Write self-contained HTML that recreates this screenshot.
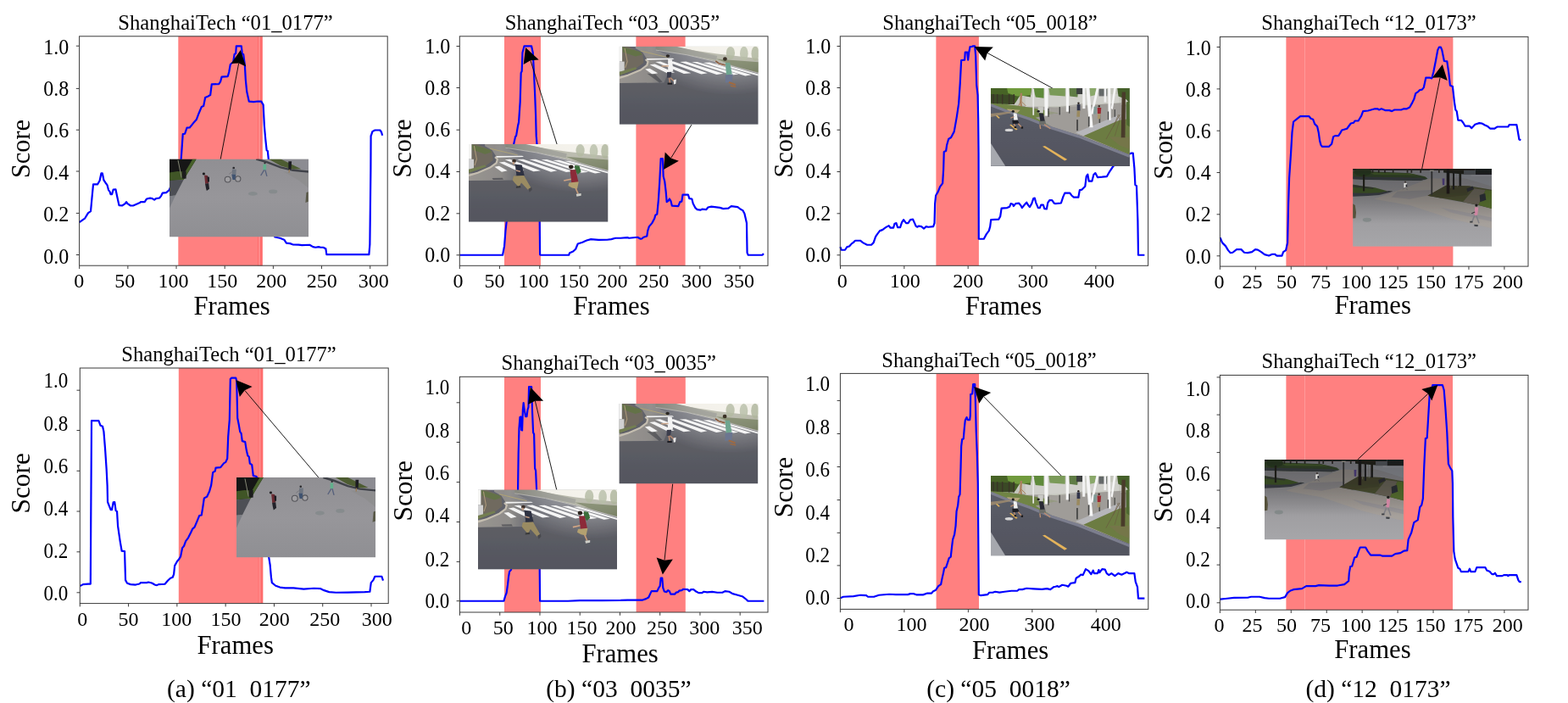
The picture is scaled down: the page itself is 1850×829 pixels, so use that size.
<!DOCTYPE html>
<html lang="en"><head><meta charset="utf-8"><title>ShanghaiTech anomaly score curves</title>
<style>html,body{margin:0;padding:0;background:#fff;}body{width:1850px;height:829px;overflow:hidden;}svg{display:block;font-family:'Liberation Serif', 'Times New Roman', Times, serif;fill:#000;}</style>
</head><body>
<svg width="1850" height="829" viewBox="0 0 1850 829">
<defs>
<linearGradient id="gA" x1="0" y1="0" x2="0" y2="1"><stop offset="0" stop-color="#908f93"/><stop offset="0.5" stop-color="#97969a"/><stop offset="1" stop-color="#8f8f93"/></linearGradient>
<linearGradient id="gB" x1="0" y1="0" x2="0" y2="1"><stop offset="0" stop-color="#4c4e59"/><stop offset="0.45" stop-color="#46474f"/><stop offset="1" stop-color="#3a3c47"/></linearGradient>
<linearGradient id="gBs" x1="0" y1="0" x2="1" y2="0"><stop offset="0" stop-color="#8a8681"/><stop offset="0.6" stop-color="#7e7b78"/><stop offset="1" stop-color="#50525b"/></linearGradient>
<linearGradient id="gD" x1="0" y1="0" x2="0" y2="1"><stop offset="0" stop-color="#5d5f6a"/><stop offset="1" stop-color="#52545f"/></linearGradient>
<linearGradient id="gE" x1="0" y1="0" x2="0" y2="1"><stop offset="0" stop-color="#87868a"/><stop offset="0.4" stop-color="#8f8e91"/><stop offset="0.72" stop-color="#a09fa2"/><stop offset="1" stop-color="#a6a6a9"/></linearGradient>
<radialGradient id="gHz" cx="0.8" cy="0" r="0.62"><stop offset="0" stop-color="#fff" stop-opacity="0.38"/><stop offset="0.5" stop-color="#fff" stop-opacity="0.26"/><stop offset="1" stop-color="#fff" stop-opacity="0"/></radialGradient>
<linearGradient id="gHz2" x1="0" y1="0" x2="0" y2="1"><stop offset="0" stop-color="#fff" stop-opacity="0.2"/><stop offset="0.4" stop-color="#fff" stop-opacity="0"/></linearGradient>
<linearGradient id="gDk" x1="0" y1="0" x2="0" y2="1"><stop offset="0" stop-color="#000" stop-opacity="0.26"/><stop offset="0.3" stop-color="#000" stop-opacity="0.2"/><stop offset="0.7" stop-color="#000" stop-opacity="0"/></linearGradient>
<filter id="blur" x="-5%" y="-5%" width="110%" height="110%"><feGaussianBlur stdDeviation="0.45"/></filter>
<clipPath id="clipP"><rect width="164" height="92"/></clipPath>
</defs>
<rect width="1850" height="829" fill="#fff"/>
<g>
<rect x="210.3" y="42.8" width="99.4" height="270.4" fill="#ff8080"/>
<rect x="304" y="42.8" width="1" height="270.4" fill="#ff6e6e"/>
<rect x="305" y="42.8" width="2" height="270.4" fill="#ff8b8b"/>
<rect x="307" y="42.8" width="2.5" height="270.4" fill="#ff6c6c"/>
<polyline fill="none" stroke="#0000ff" stroke-width="2.2" stroke-linejoin="round" stroke-linecap="butt" points="93.6,262.11 100.01,257.71 104.02,251.1 107.02,249.1 108.42,234.08 110.02,217.46 115.03,217.46 117.63,213.06 119.43,204.45 120.83,204.45 122.44,212.46 124.44,215.46 126.44,218.06 128.04,224.07 129.64,226.07 130.44,229.07 132.05,229.07 133.65,223.67 136.45,223.27 138.05,231.08 140.45,242.09 144.06,242.49 147.66,240.09 149.06,238.08 150.47,240.09 154.07,242.49 157.07,242.49 165.08,239.09 166.08,238.08 170.69,238.08 173.09,234.48 177.09,233.68 179.7,234.08 182.1,235.68 184.1,234.08 188.11,233.48 190.11,231.08 191.71,227.67 196.11,227.07 199.72,224.07 213.73,187.16 215.74,158.13 218.14,157.73 220.54,150.72 223.74,150.52 228.15,145.11 231.75,141.11 234.56,133.7 237.76,126.09 240.16,125.09 242.16,115.08 245.17,113.68 248.17,112.08 249.77,99.46 258.18,99.06 260.18,96.06 261.59,90.65 268.79,90.05 270.19,85.05 271.8,76.04 275.2,73.04 276.6,64.03 278.2,63.02 278.8,54.42 284.81,54.42 285.81,63.63 287.21,64.03 288.81,76.04 289.82,94.06 291.22,108.07 293.82,119.69 299.23,120.09 304.23,119.49 308.24,119.69 310.64,123.69 311.84,148.12 313.24,164.13 314.64,177.15 315.84,178.15 316.85,188.16 324.25,279.53 330.26,280.73 335.27,282.73 337.87,286.54 342.27,287.14 345.28,288.34 352.28,288.54 356.29,289.14 365.3,288.74 369.3,291.14 372.31,291.74 375.91,291.14 378.31,291.74 381.31,291.74 384.32,293.14 385.32,300.15 435.37,300.15 436.37,288.14 437.38,200.04 437.58,160 437.78,160.13 439.38,155.12 442.38,153.52 448.39,153.52 449.99,155.73 451.19,159.73"/>
<line x1="260.18" y1="187.76" x2="281.7" y2="74.61" stroke="#000" stroke-width="0.9"/>
<polygon points="283.81,59.02 272.6,75.04 281.7,74.61 290.22,78.44" fill="#000"/>
<g transform="translate(200 187.5) scale(1.0000 1.0000)" clip-path="url(#clipP)"><g filter="url(#blur)">
<rect width="164" height="92" fill="url(#gA)"/>
<polygon points="0.0,0.0 31.7,0.0 16.6,24.4 0.0,25.6" fill="#141712" />
<polygon points="0.0,15.9 9.4,14.5 22.1,15.3 16.6,24.4 0.0,25.6" fill="#3f5526" />
<polygon points="27.3,0.0 31.7,0.0 16.6,24.4 13.0,24.4" fill="#46602a" />
<polyline points="10.0,1.4 14.2,22.0" fill="none" stroke="#8a8a7a" stroke-width="0.96" />
<rect x="14.8" y="14.7" width="4.8" height="8.4" fill="#1a1a1c" />
<polygon points="0.0,25.6 16.6,24.4 7.0,43.1 0.0,43.7" fill="#4d4f55" />
<polygon points="0.0,43.7 7.0,43.1 0.0,58.1" fill="#7d7f85" />
<polygon points="131.2,0.0 163.8,0.0 163.8,13.5 155.3,11.7" fill="#8c8c92" />
<polygon points="116.7,0.0 131.2,0.0 155.3,11.7 145.7,12.3 131.2,8.1" fill="#4e5c32" />
<polyline points="102.3,0.0 115.5,3.9 131.2,9.9 145.7,13.3 163.8,15.0" fill="none" stroke="#3f4248" stroke-width="2.41" />
<polygon points="134.8,15.3 163.8,16.5 163.8,34.0 151.7,24.4" fill="#8b8a8a" opacity="0.6"/>
<ellipse cx="98.3" cy="40.9" rx="5.4" ry="2.4" fill="#868b8d" />
<ellipse cx="122.2" cy="38.4" rx="5.1" ry="2.4" fill="#868b8d" />
<ellipse cx="40.4" cy="17.5" rx="1.6" ry="1.4" fill="#1b1b1d" />
<polygon points="41.1,19.1 45.0,19.5 46.2,28.6 42.2,29.4" fill="#6a2a31" />
<polygon points="44.4,20.7 47.0,21.3 47.0,27.0 45.0,27.0" fill="#1c1c20" />
<polygon points="42.0,29.2 46.2,28.6 47.0,35.2 43.8,37.6 42.9,34.0" fill="#23242a" />
<circle cx="68.7" cy="24.1" r="3.4" fill="#a09fa2" stroke="#55555a" stroke-width="1.1"/>
<circle cx="80.8" cy="23.4" r="3.1" fill="#a09fa2" stroke="#55555a" stroke-width="1.1"/>
<ellipse cx="75.7" cy="10.5" rx="1.3" ry="1.3" fill="#2a2a2e" />
<polygon points="73.9,12.1 78.8,12.3 78.4,18.3 73.9,18.1" fill="#6e7480" />
<polygon points="73.3,18.1 78.2,18.3 77.5,24.4 74.5,24.4" fill="#3f5270" />
<polyline points="70.3,17.7 74.5,14.7" fill="none" stroke="#6e6e74" stroke-width="0.72" />
<ellipse cx="112.5" cy="4.8" rx="1.1" ry="1.1" fill="#2a2a2e" />
<polygon points="110.5,6.3 114.1,6.3 114.1,12.9 110.5,12.9" fill="#62b08c" />
<polyline points="111.7,12.9 107.7,19.5" fill="none" stroke="#56607c" stroke-width="1.33" />
<polyline points="112.9,12.9 114.9,20.4" fill="none" stroke="#56607c" stroke-width="1.33" />
<polygon points="140.3,2.7 144.1,2.7 143.5,12.3 140.3,12.3" fill="#1d1d20" />
<polyline points="141.5,12.3 140.9,16.2" fill="none" stroke="#9a7a50" stroke-width="1.21" />
<polygon points="161.4,39.4 163.8,38.8 163.8,50.3 160.4,51.5" fill="#5a5a4a" />
</g></g>
<rect x="93.6" y="42.8" width="363.6" height="270.4" fill="none" stroke="#3a3a3a" stroke-width="1"/>
<path d="M93.7 313.2v3.8M150.87 313.2v3.8M208.03 313.2v3.8M265.19 313.2v3.8M322.36 313.2v3.8M379.52 313.2v3.8M436.69 313.2v3.8M93.6 300.5h-3.8M93.6 251.4h-3.8M93.6 202h-3.8M93.6 153.2h-3.8M93.6 104.4h-3.8M93.6 54.2h-3.8" stroke="#3a3a3a" stroke-width="1" fill="none"/>
<text transform="translate(93.3 338.6)" font-size="24" text-anchor="middle">0</text>
<text transform="translate(147.25 338.6)" font-size="24" text-anchor="middle">50</text>
<text transform="translate(204.4 338.6)" font-size="24" text-anchor="middle">100</text>
<text transform="translate(262.3 338.6)" font-size="24" text-anchor="middle">150</text>
<text transform="translate(320.2 338.6)" font-size="24" text-anchor="middle">200</text>
<text transform="translate(379.8 338.6)" font-size="24" text-anchor="middle">250</text>
<text transform="translate(440.8 338.6)" font-size="24" text-anchor="middle">300</text>
<text transform="translate(81.2 311) scale(1.0000 1.0800)" font-size="24" text-anchor="end">0.0</text>
<text transform="translate(81.2 261.3) scale(1.0000 1.0800)" font-size="24" text-anchor="end">0.2</text>
<text transform="translate(81.2 211.6) scale(1.0000 1.0800)" font-size="24" text-anchor="end">0.4</text>
<text transform="translate(81.2 162.3) scale(1.0000 1.0800)" font-size="24" text-anchor="end">0.6</text>
<text transform="translate(81.2 112.6) scale(1.0000 1.0800)" font-size="24" text-anchor="end">0.8</text>
<text transform="translate(81.2 64.3) scale(1.0000 1.0800)" font-size="24" text-anchor="end">1.0</text>
<text transform="translate(266 34.8)" font-size="24.65" text-anchor="middle">ShanghaiTech “01_0177”</text>
<text transform="translate(273.6 371.2) scale(1.0000 1.0500)" font-size="30.7" text-anchor="middle">Frames</text>
<text transform="translate(35.2 175.5) rotate(-90) scale(1.0000 1.0700)" font-size="30.3" text-anchor="middle">Score</text>
</g>
<g>
<rect x="595" y="42.8" width="43" height="270.5" fill="#ff8080"/>
<rect x="750.4" y="42.8" width="58.2" height="270.5" fill="#ff8080"/>
<polyline fill="none" stroke="#0000ff" stroke-width="2.2" stroke-linejoin="round" stroke-linecap="butt" points="542.4,300.75 593.06,300.75 595.06,290.14 596.46,272.12 597.66,261.71 606.07,170.14 608.07,161.13 609.07,160.13 611.08,148.12 612.08,144.11 613.68,120.09 614.68,86.05 615.68,84.05 616.48,62.02 618.48,54.42 627.09,54.42 628.7,62.02 629.7,80.04 631.1,110.08 632.1,136.1 632.7,160.13 633.5,170.14 636.7,261.71 637.1,300.15 637.51,300.75 671.14,300.75 672.14,298.15 676.15,296.55 679.15,293.74 681.75,287.54 687.16,285.74 692.16,283.53 697.17,282.13 706.18,282.93 716.19,282.73 721.2,282.13 726.2,280.73 732.21,280.73 740.22,280.13 742.22,280.73 752.23,279.73 755.83,281.73 757.23,281.53 759.24,279.73 763.24,278.53 764.24,272.12 765.84,267.12 769.25,263.11 772.25,257.51 773.25,253.7 775.25,252.5 776.86,236.08 778.26,214.06 779.66,187.03 781.86,187.03 782.66,208.05 784.26,214.06 785.67,226.07 786.67,238.08 788.27,237.08 789.87,234.48 791.47,237.08 792.87,242.69 800.28,243.09 802.28,238.08 804.29,237.68 805.49,229.68 811.89,229.48 813.3,234.08 816.3,234.48 817.7,240.09 820.3,245.09 822.71,247.09 826.31,247.69 828.31,246.69 833.32,247.09 835.32,244.49 839.32,243.69 849.33,244.89 853.34,246.09 859.35,245.69 862.75,243.09 870.36,244.09 873.36,246.49 876.36,248.1 878.37,251.7 879.37,256.1 880.97,263.11 881.57,298.15 882.77,300.75 899.39,300.75 900.99,299.15"/>
<line x1="657.13" y1="170.14" x2="625.9" y2="71.17" stroke="#000" stroke-width="0.9"/>
<polygon points="620.09,56.02 617.68,76.04 625.9,71.17 635.7,70.43" fill="#000"/>
<line x1="815.9" y1="147.12" x2="791.58" y2="186.48" stroke="#000" stroke-width="0.9"/>
<polygon points="782.86,200.04 784.66,179.62 791.58,186.48 800.88,189.63" fill="#000"/>
<g transform="translate(553 170) scale(1.0030 0.9967)" clip-path="url(#clipP)"><g filter="url(#blur)">
<rect width="164" height="92" fill="url(#gB)"/>
<polygon points="0.0,34.7 10.6,33.5 25.1,27.5 33.5,20.9 34.1,17.2 27.5,7.0 19.1,2.2 19.1,0.0 43.2,0.0 43.2,4.0 62.5,13.0 57.6,31.1 52.8,42.6 0.0,43.2" fill="url(#gBs)" />
<polyline points="25.1,5.2 57.6,13.0" fill="none" stroke="#b9a24a" stroke-width="0.60" />
<polygon points="3.4,0.0 10.6,0.0 27.5,8.2 28.7,19.1 19.1,26.3 0.0,33.5 0.0,19.1 3.4,16.6" fill="#5b5648" />
<polygon points="3.4,0.4 25.1,6.4 26.9,9.6 19.1,11.8 9.4,8.4 4.6,7.0" fill="#4c5e2c" />
<polygon points="0.0,0.0 3.4,0.0 3.4,17.8 0.0,17.8" fill="#f4f4f2" />
<rect x="0.0" y="17.8" width="6.0" height="12.1" fill="#c9c9cb" />
<polyline points="6.4,2.2 9.4,17.8 7.0,25.1" fill="none" stroke="#a08868" stroke-width="1.09" />
<polygon points="0.0,29.9 19.1,24.5 20.9,26.5 0.0,34.1" fill="#5f6b38" />
<polyline points="0.0,37.1 10.6,33.8 25.1,27.7 32.6,22.1 33.8,17.8 30.9,15.2" fill="none" stroke="#bdb5a5" stroke-width="2.17" stroke-linejoin="round"/>
<polygon points="43.2,0.0 164.4,0.0 164.4,31.1 115.5,17.8 79.4,9.4 43.2,4.0" fill="#8d8e78" />
<polygon points="62.5,0.0 164.4,0.0 164.4,14.2 115.5,8.8 91.4,5.2" fill="#ece9dd" />
<polygon points="43.2,0.0 67.3,0.0 115.5,11.2 114.3,16.0 79.4,9.4 43.2,4.0" fill="#6a6b60" />
<ellipse cx="131.2" cy="7.6" rx="5.1" ry="7.5" fill="#7f8a62" opacity="0.85"/>
<ellipse cx="147.1" cy="8.4" rx="4.8" ry="8.4" fill="#8a9470" opacity="0.85"/>
<ellipse cx="160.4" cy="8.4" rx="4.6" ry="8.7" fill="#7f8a62" opacity="0.85"/>
<polygon points="114.3,14.8 164.4,18.5 164.4,30.8 139.7,24.5" fill="#3f4b20" />
<polygon points="115.5,19.1 164.4,23.9 164.4,30.8 139.7,24.5" fill="#3f4a24" opacity="0.6"/>
<polyline points="43.2,4.3 79.4,9.9 115.5,18.3 164.4,31.7" fill="none" stroke="#9c9a94" stroke-width="0.96" />
<polygon points="32.2,14.1 63.0,13.9 64.8,15.1 32.8,15.9" fill="#f2f2f2" />
<polygon points="30.4,26.8 35.8,25.9 45.5,31.4 38.8,32.8" fill="#f2f2f2" />
<polygon points="35.8,21.5 41.9,20.7 65.4,30.8 56.9,31.6" fill="#f2f2f2" />
<polygon points="42.5,18.3 48.5,17.8 84.7,31.4 76.2,32.3" fill="#f2f2f2" />
<polygon points="56.9,18.1 64.2,17.7 104.0,31.4 96.7,32.8" fill="#f2f2f2" />
<polygon points="71.4,18.1 78.6,17.8 122.7,32.0 114.8,33.2" fill="#f2f2f2" />
<polygon points="85.3,18.3 91.9,18.1 140.7,32.8 132.9,33.8" fill="#f2f2f2" />
<polygon points="99.1,19.1 106.4,18.8 155.8,33.5 148.6,34.6" fill="#f2f2f2" />
<polygon points="112.4,19.9 118.4,19.7 164.0,32.8 164.0,34.7" fill="#f2f2f2" />
<rect width="164" height="92" fill="#fff" opacity="0.13"/>
<rect width="164" height="92" fill="url(#gHz)"/>
<polygon points="27.5,40.2 39.6,39.8 40.8,42.0 28.7,42.2" fill="#3b3c44" opacity="0.6"/>
<ellipse cx="53.4" cy="20.0" rx="2.4" ry="2.1" fill="#3a2e28" />
<ellipse cx="52.8" cy="22.4" rx="1.2" ry="1.7" fill="#c09a80" />
<polygon points="54.6,23.9 62.5,24.5 65.5,37.1 56.4,38.6" fill="#2f3142" />
<polyline points="55.8,31.1 60.7,32.3" fill="none" stroke="#c09a80" stroke-width="1.45" />
<polygon points="52.8,37.7 64.9,37.1 73.3,51.6 69.7,54.0 61.9,45.6 58.9,51.0 54.0,45.6 51.6,42.6" fill="#9a8b62" />
<polygon points="55.8,49.8 60.7,49.2 61.3,51.4 55.8,51.9" fill="#3a3a3a" />
<polygon points="70.3,52.8 73.9,51.0 74.5,54.0 71.5,57.0" fill="#4a4a4e" />
<ellipse cx="120.4" cy="26.9" rx="2.7" ry="2.4" fill="#2c241e" />
<polygon points="124.6,25.1 130.0,25.7 132.2,32.3 128.2,35.9 125.2,31.1" fill="#3a6e3a" />
<polygon points="119.2,30.5 125.8,30.2 129.0,45.0 121.0,46.2" fill="#8c2b38" />
<polyline points="120.4,41.4 111.9,43.2" fill="none" stroke="#d2a684" stroke-width="1.57" />
<polygon points="118.0,45.6 129.4,44.4 127.6,52.8 121.6,51.6 117.0,49.2" fill="#b3a070" />
<polyline points="125.8,52.2 128.8,58.9" fill="none" stroke="#c49a78" stroke-width="1.69" />
<polygon points="126.4,58.9 132.2,58.3 132.2,61.0 127.0,61.9" fill="#cfcfc8" />
</g></g>
<g transform="translate(730.7 54.8) scale(1.0000 1.0000)" clip-path="url(#clipP)"><g filter="url(#blur)">
<rect width="164" height="92" fill="url(#gB)"/>
<polygon points="0.0,34.7 10.6,33.5 25.1,27.5 33.5,20.9 34.1,17.2 27.5,7.0 19.1,2.2 19.1,0.0 43.2,0.0 43.2,4.0 62.5,13.0 57.6,31.1 52.8,42.6 0.0,43.2" fill="url(#gBs)" />
<polyline points="25.1,5.2 57.6,13.0" fill="none" stroke="#b9a24a" stroke-width="0.60" />
<polygon points="3.4,0.0 10.6,0.0 27.5,8.2 28.7,19.1 19.1,26.3 0.0,33.5 0.0,19.1 3.4,16.6" fill="#5b5648" />
<polygon points="3.4,0.4 25.1,6.4 26.9,9.6 19.1,11.8 9.4,8.4 4.6,7.0" fill="#4c5e2c" />
<polygon points="0.0,0.0 3.4,0.0 3.4,17.8 0.0,17.8" fill="#f4f4f2" />
<rect x="0.0" y="17.8" width="6.0" height="12.1" fill="#c9c9cb" />
<polyline points="6.4,2.2 9.4,17.8 7.0,25.1" fill="none" stroke="#a08868" stroke-width="1.09" />
<polygon points="0.0,29.9 19.1,24.5 20.9,26.5 0.0,34.1" fill="#5f6b38" />
<polyline points="0.0,37.1 10.6,33.8 25.1,27.7 32.6,22.1 33.8,17.8 30.9,15.2" fill="none" stroke="#bdb5a5" stroke-width="2.17" stroke-linejoin="round"/>
<polygon points="43.2,0.0 164.4,0.0 164.4,31.1 115.5,17.8 79.4,9.4 43.2,4.0" fill="#8d8e78" />
<polygon points="62.5,0.0 164.4,0.0 164.4,14.2 115.5,8.8 91.4,5.2" fill="#ece9dd" />
<polygon points="43.2,0.0 67.3,0.0 115.5,11.2 114.3,16.0 79.4,9.4 43.2,4.0" fill="#6a6b60" />
<ellipse cx="131.2" cy="7.6" rx="5.1" ry="7.5" fill="#7f8a62" opacity="0.85"/>
<ellipse cx="147.1" cy="8.4" rx="4.8" ry="8.4" fill="#8a9470" opacity="0.85"/>
<ellipse cx="160.4" cy="8.4" rx="4.6" ry="8.7" fill="#7f8a62" opacity="0.85"/>
<polygon points="114.3,14.8 164.4,18.5 164.4,30.8 139.7,24.5" fill="#3f4b20" />
<polygon points="115.5,19.1 164.4,23.9 164.4,30.8 139.7,24.5" fill="#3f4a24" opacity="0.6"/>
<polyline points="43.2,4.3 79.4,9.9 115.5,18.3 164.4,31.7" fill="none" stroke="#9c9a94" stroke-width="0.96" />
<polygon points="32.2,14.1 63.0,13.9 64.8,15.1 32.8,15.9" fill="#f2f2f2" />
<polygon points="30.4,26.8 35.8,25.9 45.5,31.4 38.8,32.8" fill="#f2f2f2" />
<polygon points="35.8,21.5 41.9,20.7 65.4,30.8 56.9,31.6" fill="#f2f2f2" />
<polygon points="42.5,18.3 48.5,17.8 84.7,31.4 76.2,32.3" fill="#f2f2f2" />
<polygon points="56.9,18.1 64.2,17.7 104.0,31.4 96.7,32.8" fill="#f2f2f2" />
<polygon points="71.4,18.1 78.6,17.8 122.7,32.0 114.8,33.2" fill="#f2f2f2" />
<polygon points="85.3,18.3 91.9,18.1 140.7,32.8 132.9,33.8" fill="#f2f2f2" />
<polygon points="99.1,19.1 106.4,18.8 155.8,33.5 148.6,34.6" fill="#f2f2f2" />
<polygon points="112.4,19.9 118.4,19.7 164.0,32.8 164.0,34.7" fill="#f2f2f2" />
<rect width="164" height="92" fill="#fff" opacity="0.13"/>
<rect width="164" height="92" fill="url(#gHz)"/>
<polygon points="32.8,32.0 42.5,32.6 50.9,41.6 47.3,42.8" fill="#3b3c44" opacity="0.55"/>
<ellipse cx="57.2" cy="11.2" rx="2.2" ry="1.7" fill="#2a2624" />
<polygon points="57.5,15.1 62.4,15.7 63.6,28.9 57.5,30.2" fill="#f3f3f3" />
<polyline points="58.1,22.9 49.7,23.2" fill="none" stroke="#c9a489" stroke-width="1.45" />
<polygon points="56.3,30.2 61.8,29.9 60.5,37.4 56.3,36.8" fill="#3a3c4c" />
<polyline points="58.7,36.8 59.9,43.4" fill="none" stroke="#b98a70" stroke-width="1.45" />
<polyline points="59.9,36.8 64.8,41.0" fill="none" stroke="#b98a70" stroke-width="1.45" />
<polygon points="56.9,42.8 62.4,42.8 62.4,44.9 56.9,44.9" fill="#1e1e22" />
<polygon points="63.9,39.6 67.2,38.8 66.6,44.0 64.4,44.6" fill="#e8e8e8" />
<ellipse cx="124.7" cy="14.7" rx="2.4" ry="2.2" fill="#3a3026" />
<polygon points="125.1,19.3 130.5,19.3 133.1,32.6 126.3,34.0" fill="#6ea590" />
<polyline points="125.1,22.3 117.2,19.9 113.6,17.1" fill="none" stroke="#8a5a3c" stroke-width="1.57" />
<polygon points="125.1,33.8 134.1,32.8 132.9,41.6 125.1,42.8" fill="#6c7690" />
<polyline points="129.3,42.2 137.1,45.2" fill="none" stroke="#a06a40" stroke-width="1.93" />
<polyline points="131.1,46.4 137.7,47.6" fill="none" stroke="#a06a40" stroke-width="1.45" />
</g></g>
<rect x="542.3" y="42.8" width="363.7" height="270.5" fill="none" stroke="#3a3a3a" stroke-width="1"/>
<path d="M542.3 313.3v3.8M589.54 313.3v3.8M636.78 313.3v3.8M684.02 313.3v3.8M731.26 313.3v3.8M778.5 313.3v3.8M825.74 313.3v3.8M872.98 313.3v3.8M542.3 300.8h-3.8M542.3 251.8h-3.8M542.3 202.5h-3.8M542.3 153.2h-3.8M542.3 103.5h-3.8M542.3 54.5h-3.8" stroke="#3a3a3a" stroke-width="1" fill="none"/>
<text transform="translate(540.6 338.6)" font-size="24" text-anchor="middle">0</text>
<text transform="translate(583.5 338.6)" font-size="24" text-anchor="middle">50</text>
<text transform="translate(629.5 338.6)" font-size="24" text-anchor="middle">100</text>
<text transform="translate(677 338.6)" font-size="24" text-anchor="middle">150</text>
<text transform="translate(722.6 338.6)" font-size="24" text-anchor="middle">200</text>
<text transform="translate(771.3 338.6)" font-size="24" text-anchor="middle">250</text>
<text transform="translate(822 338.6)" font-size="24" text-anchor="middle">300</text>
<text transform="translate(872.1 338.6)" font-size="24" text-anchor="middle">350</text>
<text transform="translate(531.2 308.6) scale(1.0000 1.0800)" font-size="24" text-anchor="end">0.0</text>
<text transform="translate(531.2 259.6) scale(1.0000 1.0800)" font-size="24" text-anchor="end">0.2</text>
<text transform="translate(531.2 210) scale(1.0000 1.0800)" font-size="24" text-anchor="end">0.4</text>
<text transform="translate(531.2 161) scale(1.0000 1.0800)" font-size="24" text-anchor="end">0.6</text>
<text transform="translate(531.2 112) scale(1.0000 1.0800)" font-size="24" text-anchor="end">0.8</text>
<text transform="translate(531.2 63) scale(1.0000 1.0800)" font-size="24" text-anchor="end">1.0</text>
<text transform="translate(722.5 34.8)" font-size="24.65" text-anchor="middle">ShanghaiTech “03_0035”</text>
<text transform="translate(721.4 371.2) scale(1.0000 1.0500)" font-size="30.7" text-anchor="middle">Frames</text>
<text transform="translate(485.2 175) rotate(-90) scale(1.0000 1.0700)" font-size="30.3" text-anchor="middle">Score</text>
</g>
<g>
<rect x="1104.4" y="42.8" width="50.5" height="270.5" fill="#ff8080"/>
<polyline fill="none" stroke="#0000ff" stroke-width="2.2" stroke-linejoin="round" stroke-linecap="butt" points="991.41,291.14 992.61,294.75 997.01,294.75 999.42,291.14 1002.02,290.54 1005.02,287.14 1006.62,286.14 1009.03,283.73 1015.03,283.73 1018.04,286.14 1023.04,288.74 1028.05,288.74 1030.65,286.14 1033.05,279.13 1035.05,276.13 1038.06,272.12 1041.06,271.12 1045.06,268.12 1048.67,266.11 1050.67,268.72 1054.07,268.72 1055.48,263.71 1057.48,263.11 1059.08,268.12 1062.08,268.12 1064.09,262.11 1066.09,259.11 1069.09,263.11 1071.49,263.11 1074.1,259.11 1077.1,258.71 1079.1,263.11 1080.7,266.72 1082.1,267.72 1084.11,266.52 1087.11,267.12 1090.11,269.52 1092.72,267.12 1095.12,267.72 1101.13,267.12 1102.53,263.11 1103.13,240.09 1104.13,230.48 1106.73,226.07 1109.13,220.06 1112.14,216.06 1113.14,200.04 1113.74,179.02 1116.14,178.02 1117.14,171.01 1119.15,164 1122.15,162 1125.75,155.12 1128.76,138.11 1131.16,122.09 1132.76,98.06 1134.16,71.03 1138.17,70.63 1138.77,61.62 1141.17,61.62 1142.17,70.63 1143.17,62.02 1144.57,55.02 1146.77,55.02 1147.58,54.42 1150.18,54.42 1151.18,66.03 1152.18,100.06 1153.58,112.08 1154.18,140.11 1154.58,180.15 1154.78,281.73 1160.79,281.73 1163.79,276.13 1166.8,272.12 1168.2,267.12 1169.2,259.11 1178.21,258.71 1180.21,255.1 1181.61,245.69 1188.22,245.09 1191.22,243.69 1192.62,240.09 1194.83,240.69 1195.83,243.09 1198.23,240.09 1202.23,239.69 1204.24,242.09 1205.84,245.09 1208.24,242.09 1211.24,238.69 1213.25,242.09 1214.85,244.09 1217.25,240.09 1219.25,234.08 1220.85,233.68 1222.26,239.09 1224.86,245.09 1226.86,245.09 1228.26,241.69 1230.87,241.69 1232.27,246.09 1234.87,246.49 1236.27,239.09 1238.27,236.08 1241.28,236.08 1243.68,239.69 1245.28,240.09 1251.89,239.49 1254.29,232.08 1256.29,227.67 1262.3,227.67 1264.3,230.48 1266.9,232.68 1272.31,232.68 1273.91,224.07 1276.31,223.67 1280.32,219.66 1281.72,208.05 1283.32,205.65 1284.72,213.66 1288.33,213.66 1290.33,206.05 1292.33,204.05 1294.94,209.05 1300.34,208.65 1305.95,208.05 1309.35,202.05 1313.35,196.04 1325.37,186.03 1334.38,180.62 1336.78,180.62 1338.38,198.04 1339.38,218.06 1340.98,219.06 1342.39,260.11 1342.99,300.75 1350.4,300.75"/>
<line x1="1241.88" y1="104.07" x2="1164.91" y2="62.42" stroke="#000" stroke-width="0.9"/>
<polygon points="1149.58,55.02 1171.8,55.42 1164.91,62.42 1162.19,71.43" fill="#000"/>
<g transform="translate(1169 104) scale(1.0000 1.0000)" clip-path="url(#clipP)"><g filter="url(#blur)">
<rect width="164" height="92" fill="url(#gD)"/>
<polygon points="0.0,0.0 163.8,0.0 163.8,78.2 103.5,55.2 72.1,45.6 45.6,34.7 19.1,26.5 0.0,19.1" fill="#9f9c98" />
<polygon points="0.0,0.0 163.8,0.0 163.8,19.1 79.4,22.7 0.0,19.1" fill="#c4c6bc" />
<polygon points="40.8,8.2 151.7,7.0 151.7,17.2 79.4,20.9 40.8,22.1" fill="#cfcfca" />
<polygon points="0.0,0.0 48.0,0.0 46.8,10.6 34.7,8.2 28.7,17.8 0.0,19.1" fill="#476328" />
<polygon points="0.0,7.0 28.7,8.2 27.5,19.1 0.0,18.5" fill="#3a4a28" />
<polygon points="19.1,0.0 48.0,0.0 46.8,8.2 31.1,9.4 20.3,5.8" fill="#6f9a3c" />
<polygon points="50.4,0.0 62.5,0.0 62.5,11.8 52.8,10.6" fill="#5f8a3a" />
<polygon points="68.5,0.0 87.8,0.0 87.8,9.4 69.7,8.2" fill="#7a9a58" />
<polygon points="92.6,0.0 103.5,0.0 102.3,10.6 93.2,9.4" fill="#5e7c44" />
<polygon points="116.7,0.0 124.6,0.0 122.8,8.2 117.4,9.4" fill="#8aa86a" />
<polygon points="101.1,0.0 108.3,0.0 108.3,7.0 101.1,7.0" fill="#3c4040" />
<polygon points="127.6,1.0 137.3,1.0 137.3,9.4 127.6,9.4" fill="#3a3e44" opacity="0.7"/>
<rect x="2.2" y="7.0" width="1.4" height="12.1" fill="#3a3426" />
<rect x="7.0" y="7.0" width="1.4" height="12.1" fill="#3a3426" />
<rect x="13.0" y="7.0" width="1.4" height="12.1" fill="#3a3426" />
<rect x="20.9" y="7.0" width="1.4" height="12.1" fill="#3a3426" />
<rect x="26.5" y="7.0" width="1.4" height="12.1" fill="#3a3426" />
<polyline points="35.9,5.8 35.3,16.6 36.5,26.3" fill="none" stroke="#a9805e" stroke-width="2.41" />
<polyline points="35.3,15.4 31.1,23.9" fill="none" stroke="#a9805e" stroke-width="0.96" />
<polyline points="35.9,15.4 41.4,20.9" fill="none" stroke="#a9805e" stroke-width="0.96" />
<polygon points="0.0,17.8 19.1,19.1 49.2,23.3 79.4,29.3 72.1,45.0 45.6,34.7 19.1,26.5 0.0,18.8" fill="#6f8444" />
<polygon points="19.1,24.5 34.7,25.7 31.1,29.3 20.3,27.3" fill="#b7a77c" />
<polygon points="72.1,45.6 103.5,55.2 150.5,34.7 154.1,17.2 103.5,20.9 79.4,29.3 67.3,31.1 52.8,34.7" fill="#9f9c98" />
<polygon points="67.3,23.9 110.7,17.8 110.7,23.9 69.7,31.1" fill="#a5a39c" opacity="0.7"/>
<polygon points="99.9,52.6 149.3,32.3 151.7,37.7 109.5,56.2" fill="#b6b6ba" />
<polygon points="109.5,56.2 151.7,37.7 163.8,35.9 163.8,78.2" fill="#6c7c42" />
<polygon points="139.7,57.6 163.8,57.6 163.8,72.1 151.7,67.3" fill="#7a7350" opacity="0.6"/>
<polyline points="0.0,19.8 19.1,27.3 45.6,36.2 72.1,47.0 103.5,56.9 163.8,80.3" fill="none" stroke="#7c7e8e" stroke-width="3.14" />
<polygon points="0.0,64.9 17.2,91.8 0.0,91.8" fill="#a6a8ae" />
<polygon points="0.0,29.9 22.7,27.5 23.9,29.3 0.0,34.1" fill="#a38f6f" opacity="0.8"/>
<polygon points="149.3,0.0 163.8,0.0 163.8,17.8 159.6,13.0 150.5,9.4" fill="#44602a" />
<polygon points="159.6,16.6 163.8,15.4 163.8,45.6 160.2,43.2" fill="#4f6a30" />
<polygon points="154.7,4.6 159.0,4.6 158.5,58.3 153.7,58.3" fill="#4a3a2c" />
<polyline points="152.3,31.1 136.0,60.1" fill="none" stroke="#6a5a40" stroke-width="0.72" />
<polyline points="152.9,34.7 146.3,56.4" fill="none" stroke="#6a5a40" stroke-width="0.60" />
<polyline points="150.5,31.1 144.5,45.6" fill="none" stroke="#6a5a40" stroke-width="0.60" />
<rect x="63.4" y="0.0" width="4.2" height="32.6" fill="#f5f5f5" />
<rect x="88.8" y="0.0" width="3.4" height="27.7" fill="#f5f5f5" />
<rect x="108.3" y="0.0" width="3.1" height="24.1" fill="#f2f2f2" />
<polygon points="112.5,0.0 116.1,0.0 120.6,46.2 116.1,46.2" fill="#f5f5f5" />
<polygon points="124.6,0.0 127.6,0.0 120.4,31.1 118.0,29.9" fill="#f5f5f5" />
<polygon points="133.6,0.0 136.3,0.0 136.3,16.6 133.6,16.6" fill="#f0f0f0" />
<polygon points="138.2,0.0 141.2,0.0 141.8,37.7 138.7,37.7" fill="#f5f5f5" />
<polygon points="145.1,0.0 147.9,0.0 143.9,25.1 141.8,23.9" fill="#f5f5f5" />
<rect x="49.4" y="1.0" width="1.7" height="30.8" fill="#e8e8e8" />
<rect x="55.8" y="22.1" width="6.0" height="7.2" fill="#c9c9c5" />
<rect x="101.1" y="37.1" width="1.9" height="13.0" fill="#4a4a48" />
<rect x="114.9" y="33.5" width="1.7" height="11.8" fill="#4a4a48" />
<rect x="127.6" y="31.1" width="1.6" height="9.9" fill="#4a4a48" />
<rect x="137.9" y="27.5" width="1.3" height="9.9" fill="#4a4a48" />
<rect x="145.7" y="25.1" width="1.3" height="8.7" fill="#4a4a48" />
<rect x="67.3" y="23.9" width="1.4" height="9.9" fill="#4a4a48" />
<rect x="80.6" y="22.1" width="1.4" height="9.3" fill="#4a4a48" />
<rect x="92.0" y="20.9" width="1.3" height="8.7" fill="#4a4a48" />
<polygon points="61.0,68.7 63.9,68.0 90.2,83.9 87.2,85.6" fill="#e4b35a" />
<polygon points="22.1,43.2 23.9,42.7 31.7,48.6 29.9,49.4" fill="#e4b35a" />
<polygon points="5.8,32.6 7.6,32.1 10.9,35.0 9.2,35.7" fill="#dab060" />
<ellipse cx="21.5" cy="49.4" rx="4.8" ry="1.7" fill="#d6d6d6" />
<ellipse cx="26.3" cy="27.3" rx="1.6" ry="1.4" fill="#1c1c1e" />
<polygon points="26.7,29.3 30.5,29.7 32.0,37.7 27.3,38.6" fill="#f0f0f0" />
<polyline points="27.5,33.5 23.3,35.3" fill="none" stroke="#c09070" stroke-width="1.09" />
<polygon points="25.3,37.7 31.7,37.4 33.5,41.4 25.7,42.2" fill="#1c1c22" />
<polyline points="32.3,41.7 36.5,46.2" fill="none" stroke="#c09070" stroke-width="1.33" />
<polyline points="27.3,42.0 28.9,45.6" fill="none" stroke="#c09070" stroke-width="1.33" />
<rect x="27.7" y="45.0" width="2.4" height="2.1" fill="#1c1c1e" />
<rect x="35.7" y="45.3" width="2.4" height="2.4" fill="#1c1c1e" />
<ellipse cx="56.2" cy="27.3" rx="1.6" ry="1.4" fill="#1c1c1e" />
<polygon points="56.8,29.3 61.9,29.7 63.9,39.0 58.5,39.8" fill="#2a2c35" />
<polygon points="57.0,39.0 64.3,38.4 65.1,42.9 57.6,43.4" fill="#6c6e6a" />
<polyline points="63.1,42.6 70.3,47.8" fill="none" stroke="#c09070" stroke-width="1.33" />
<polyline points="57.9,43.2 58.6,48.0" fill="none" stroke="#c09070" stroke-width="1.33" />
<polygon points="101.7,19.1 105.5,19.1 105.5,26.5 101.7,26.5" fill="#32364a" />
<ellipse cx="103.5" cy="17.8" rx="1.2" ry="1.2" fill="#2a2420" />
<polygon points="101.7,26.5 105.3,26.5 104.9,33.8 101.3,33.8" fill="#9a8a60" />
<polygon points="125.8,22.9 130.3,22.9 129.7,30.2 126.0,30.2" fill="#9c2b30" />
<ellipse cx="127.8" cy="21.2" rx="1.2" ry="1.2" fill="#3a2c24" />
<polygon points="126.0,30.2 129.4,30.2 128.8,36.2 125.8,36.2" fill="#a8956a" />
<polygon points="121.6,21.7 124.9,21.7 124.6,30.5 121.3,30.5" fill="#7f9a96" />
</g></g>
<rect x="991.3" y="42.8" width="363.3" height="270.5" fill="none" stroke="#3a3a3a" stroke-width="1"/>
<path d="M991.5 313.3v3.8M1066.83 313.3v3.8M1142.16 313.3v3.8M1217.49 313.3v3.8M1292.82 313.3v3.8M991.3 300.8h-3.8M991.3 251.8h-3.8M991.3 202.5h-3.8M991.3 153.2h-3.8M991.3 103.5h-3.8M991.3 54.5h-3.8" stroke="#3a3a3a" stroke-width="1" fill="none"/>
<text transform="translate(993.7 338.6)" font-size="24" text-anchor="middle">0</text>
<text transform="translate(1067.7 338.6)" font-size="24" text-anchor="middle">100</text>
<text transform="translate(1142.2 338.6)" font-size="24" text-anchor="middle">200</text>
<text transform="translate(1218.7 338.6)" font-size="24" text-anchor="middle">300</text>
<text transform="translate(1297 338.6)" font-size="24" text-anchor="middle">400</text>
<text transform="translate(980.2 308.6) scale(1.0000 1.0800)" font-size="24" text-anchor="end">0.0</text>
<text transform="translate(980.2 259.6) scale(1.0000 1.0800)" font-size="24" text-anchor="end">0.2</text>
<text transform="translate(980.2 210) scale(1.0000 1.0800)" font-size="24" text-anchor="end">0.4</text>
<text transform="translate(980.2 161) scale(1.0000 1.0800)" font-size="24" text-anchor="end">0.6</text>
<text transform="translate(980.2 112) scale(1.0000 1.0800)" font-size="24" text-anchor="end">0.8</text>
<text transform="translate(980.2 63) scale(1.0000 1.0800)" font-size="24" text-anchor="end">1.0</text>
<text transform="translate(1168 34.8)" font-size="24.65" text-anchor="middle">ShanghaiTech “05_0018”</text>
<text transform="translate(1184 371.2) scale(1.0000 1.0500)" font-size="30.7" text-anchor="middle">Frames</text>
<text transform="translate(934.9 175) rotate(-90) scale(1.0000 1.0700)" font-size="30.3" text-anchor="middle">Score</text>
</g>
<g>
<rect x="1517.4" y="43.4" width="197" height="270.7" fill="#ff8080"/>
<rect x="1539" y="43.4" width="0.9" height="270.7" fill="#ff9d9d"/>
<polyline fill="none" stroke="#0000ff" stroke-width="2.2" stroke-linejoin="round" stroke-linecap="butt" points="1439.61,280.13 1442.01,286.14 1446.02,290.14 1449.02,295.15 1451.62,298.15 1454.43,297.75 1459.03,294.15 1464.44,294.15 1468.04,297.75 1472.05,298.15 1477.05,297.15 1481.06,294.15 1484.06,294.55 1488.06,297.15 1492.07,300.15 1497.07,301.55 1501.08,299.75 1504.08,299.75 1506.48,301.55 1512.49,301.55 1514.09,297.15 1517.09,295.15 1519.1,286.14 1520.1,240.09 1521.1,210.05 1523.1,180.15 1524.5,156.13 1526.1,143.51 1529.11,141.11 1534.11,137.1 1544.52,137.1 1546.53,139.71 1549.13,140.71 1551.13,146.11 1554.13,149.12 1555.74,156.13 1557.14,166.14 1558.54,171.14 1560.14,172.94 1567.75,172.94 1571.15,169.74 1573.15,161.13 1575.16,160.13 1579.16,160.13 1581.16,157.13 1583.17,153.52 1589.17,151.72 1593.78,145.51 1597.18,144.71 1598.58,142.51 1602.59,142.51 1606.19,136.7 1608.19,131.1 1614.2,130.5 1622.21,128.3 1625.21,128.3 1627.21,129.5 1629.82,128.3 1634.22,130.1 1639.23,130.1 1642.23,131.1 1645.23,129.5 1653.24,129.5 1656.24,128.3 1659.85,128.3 1663.25,126.49 1666.26,121.09 1668.26,117.08 1670.26,110.08 1673.26,108.07 1675.27,106.07 1677.87,105.67 1679.87,103.07 1682.27,91.66 1687.28,91.66 1689.28,92.46 1691.28,85.05 1693.89,72.03 1696.29,59.02 1697.89,55.62 1699.89,55.62 1701.29,59.02 1703.9,72.03 1707.3,72.44 1709.3,86.05 1710.9,100.67 1713.91,102.07 1715.91,120.09 1717.31,129.5 1718.71,131.1 1720.31,141.71 1724.32,142.11 1726.32,144.71 1728.72,148.72 1733.93,148.72 1736.33,151.12 1740.34,146.72 1745.34,145.11 1748.34,145.51 1752.35,147.72 1755.35,149.12 1758.35,151.72 1763.36,151.72 1766.36,149.52 1779.38,149.52 1780.78,147.12 1789.39,147.12 1790.99,156.13 1792.39,164.53 1794.39,165.14"/>
<line x1="1677.67" y1="199.17" x2="1699.16" y2="91.28" stroke="#000" stroke-width="0.9"/>
<polygon points="1701.89,76.04 1689.88,91.66 1699.16,91.28 1707.7,95.06" fill="#000"/>
<g transform="translate(1596.1 199) scale(1.0000 0.9978)" clip-path="url(#clipP)"><g filter="url(#blur)">
<rect width="164" height="92" fill="url(#gE)"/>
<polygon points="0.0,0.0 163.9,0.0 163.9,11.8 88.9,11.8 79.2,7.0 0.0,4.6" fill="#8a8b91" />
<polygon points="115.4,0.0 163.9,0.0 163.9,20.9 144.4,14.8 127.5,10.0 115.4,10.6" fill="#90939a" />
<rect x="144.4" y="0.0" width="19.5" height="8.4" fill="#222528" />
<rect x="131.1" y="0.0" width="13.3" height="7.0" fill="#5a5e64" />
<rect x="139.5" y="7.0" width="24.4" height="2.2" fill="#9a9ca2" />
<polygon points="25.0,35.9 55.1,25.1 91.3,11.2 109.4,11.8 109.4,19.1 88.9,32.3 163.9,46.8 163.9,70.3 115.4,58.9 67.2,43.2" fill="#b3a68e" opacity="0.32"/>
<polygon points="52.7,26.9 93.7,25.1 91.3,31.1 67.2,35.9 45.5,33.5" fill="#7c7c86" opacity="0.5"/>
<polygon points="103.4,45.6 163.9,57.6 163.9,62.5 115.4,51.6" fill="#8a8a94" opacity="0.45"/>
<polygon points="0.0,2.2 67.2,5.2 85.3,9.2 88.3,11.8 79.2,14.0 18.9,12.8 0.0,12.1" fill="#3a4a2b" />
<polygon points="0.0,9.2 79.2,10.6 87.7,12.1 79.2,14.0 18.9,13.0 0.0,12.4" fill="#3c4044" />
<polygon points="18.9,4.0 67.2,5.8 76.8,7.6 25.0,7.0" fill="#486030" />
<rect x="0.0" y="0.0" width="144.4" height="1.9" fill="#272523" />
<rect x="22.6" y="0.0" width="1.7" height="4.8" fill="#2e2c28" />
<rect x="29.8" y="0.0" width="1.7" height="4.8" fill="#2e2c28" />
<rect x="37.0" y="0.0" width="1.7" height="4.8" fill="#2e2c28" />
<rect x="46.7" y="0.0" width="1.7" height="4.8" fill="#2e2c28" />
<rect x="63.6" y="0.0" width="1.7" height="4.8" fill="#2e2c28" />
<rect x="68.4" y="0.0" width="1.7" height="4.8" fill="#2e2c28" />
<rect x="79.2" y="0.0" width="1.7" height="4.8" fill="#2e2c28" />
<rect x="100.9" y="0.0" width="1.7" height="4.8" fill="#2e2c28" />
<polygon points="0.0,18.5 12.9,20.9 26.2,22.4 41.2,26.5 31.0,29.7 0.0,30.2" fill="#43582c" />
<polygon points="0.0,28.5 17.7,28.9 31.0,28.2 42.5,26.1 47.3,26.5 43.1,28.1 31.0,31.1 17.7,32.1 0.0,32.8" fill="#3e4247" />
<polygon points="0.0,19.1 25.0,22.2 23.8,23.9 0.0,21.7" fill="#35383c" opacity="0.7"/>
<ellipse cx="11.7" cy="3.6" rx="10.3" ry="5.1" fill="#2f3f24" />
<rect x="11.9" y="7.0" width="2.2" height="19.5" fill="#26241f" />
<polygon points="88.3,31.7 110.0,19.7 138.3,20.5 163.9,24.8 163.9,47.0 149.2,43.4 129.9,39.3" fill="#4c5034" />
<polygon points="110.0,19.7 138.3,20.5 134.7,31.1 103.4,34.7 88.3,31.7" fill="#46472f" />
<polygon points="129.9,39.3 143.4,23.3 156.7,25.1 148.2,42.9" fill="#6b665a" />
<polygon points="148.2,42.9 156.7,25.1 163.9,25.7 163.9,47.0" fill="#587030" />
<polygon points="107.0,0.0 131.1,0.0 131.1,6.4 115.4,5.2 107.0,4.6" fill="#24281f" />
<rect x="110.6" y="0.0" width="3.6" height="29.5" fill="#211f1d" />
<rect x="117.8" y="2.2" width="2.2" height="22.3" fill="#272522" />
<rect x="125.3" y="0.0" width="2.7" height="20.5" fill="#252321" />
<polyline points="116.6,5.8 115.4,22.7" fill="none" stroke="#77776e" stroke-width="0.72" />
<polyline points="122.7,5.8 123.3,21.5" fill="none" stroke="#77776e" stroke-width="0.60" />
<rect x="92.3" y="2.4" width="1.8" height="28.7" fill="#3a3a3a" />
<rect x="90.8" y="1.7" width="4.8" height="1.2" fill="#b5b5ad" />
<polygon points="134.1,23.5 141.4,20.6 142.9,24.1 135.3,27.5" fill="#2f3238" />
<polygon points="149.6,31.1 156.1,29.1 157.3,36.8 150.2,39.3" fill="#2f3238" />
<rect width="164" height="92" fill="url(#gDk)"/>
<ellipse cx="61.9" cy="15.7" rx="1.1" ry="1.1" fill="#3a3430" />
<polygon points="60.3,16.9 63.8,16.9 63.8,22.4 60.3,22.4" fill="#dcdbd8" />
<rect x="62.4" y="18.5" width="1.7" height="3.3" fill="#2a2c30" />
<polyline points="58.7,24.5 62.4,22.1 64.5,25.1" fill="none" stroke="#5a5a5c" stroke-width="0.72" />
<polygon points="105.5,11.6 108.4,11.6 108.2,19.3 105.8,19.3" fill="#43356a" />
<ellipse cx="145.8" cy="43.2" rx="1.6" ry="1.6" fill="#1e1c1c" />
<polygon points="144.1,45.3 148.2,45.6 147.0,55.2 143.4,55.0" fill="#cf86a2" />
<polyline points="144.1,51.0 140.1,52.8" fill="none" stroke="#3a3a3e" stroke-width="1.09" />
<polyline points="143.8,55.0 140.7,62.5" fill="none" stroke="#7e7e84" stroke-width="1.45" />
<polyline points="145.6,55.0 148.9,64.3" fill="none" stroke="#7e7e84" stroke-width="1.45" />
<polygon points="143.2,65.9 147.7,66.1 147.4,68.3 143.4,68.0" fill="#3e4044" />
<polygon points="138.1,61.9 141.4,61.9 141.4,63.7 138.1,63.7" fill="#3e4044" />
<polygon points="0.0,41.4 2.7,43.2 3.9,51.6 3.3,58.3 0.0,58.6" fill="#55513a" />
<ellipse cx="16.8" cy="60.4" rx="5.1" ry="2.4" fill="#838989" />
</g></g>
<rect x="1439.4" y="43.4" width="363.6" height="270.7" fill="none" stroke="#3a3a3a" stroke-width="1"/>
<path d="M1439.4 314.1v3.8M1481.34 314.1v3.8M1523.28 314.1v3.8M1565.21 314.1v3.8M1607.15 314.1v3.8M1649.09 314.1v3.8M1691.03 314.1v3.8M1732.96 314.1v3.8M1774.9 314.1v3.8M1439.4 301.8h-3.8M1439.4 252.8h-3.8M1439.4 203.5h-3.8M1439.4 154.2h-3.8M1439.4 104.9h-3.8M1439.4 55.5h-3.8" stroke="#3a3a3a" stroke-width="1" fill="none"/>
<text transform="translate(1438.5 339.5)" font-size="24" text-anchor="middle">0</text>
<text transform="translate(1477.5 339.5)" font-size="24" text-anchor="middle">25</text>
<text transform="translate(1518.1 339.5)" font-size="24" text-anchor="middle">50</text>
<text transform="translate(1558.2 339.5)" font-size="24" text-anchor="middle">75</text>
<text transform="translate(1600 339.5)" font-size="24" text-anchor="middle">100</text>
<text transform="translate(1643.5 339.5)" font-size="24" text-anchor="middle">125</text>
<text transform="translate(1687.9 339.5)" font-size="24" text-anchor="middle">150</text>
<text transform="translate(1732.7 339.5)" font-size="24" text-anchor="middle">175</text>
<text transform="translate(1778.9 339.5)" font-size="24" text-anchor="middle">200</text>
<text transform="translate(1428.8 311) scale(1.0000 1.0800)" font-size="24" text-anchor="end">0.0</text>
<text transform="translate(1428.8 261.3) scale(1.0000 1.0800)" font-size="24" text-anchor="end">0.2</text>
<text transform="translate(1428.8 212.3) scale(1.0000 1.0800)" font-size="24" text-anchor="end">0.4</text>
<text transform="translate(1428.8 163.3) scale(1.0000 1.0800)" font-size="24" text-anchor="end">0.6</text>
<text transform="translate(1428.8 114.3) scale(1.0000 1.0800)" font-size="24" text-anchor="end">0.8</text>
<text transform="translate(1428.8 65.3) scale(1.0000 1.0800)" font-size="24" text-anchor="end">1.0</text>
<text transform="translate(1615 34.8)" font-size="24.65" text-anchor="middle">ShanghaiTech “12_0173”</text>
<text transform="translate(1619.7 369.8) scale(1.0000 1.0500)" font-size="30.7" text-anchor="middle">Frames</text>
<text transform="translate(1383.2 176.9) rotate(-90) scale(1.0000 1.0700)" font-size="30.3" text-anchor="middle">Score</text>
</g>
<g>
<rect x="210.8" y="434" width="99.5" height="277.6" fill="#ff8080"/>
<rect x="304.6" y="434" width="1" height="277.6" fill="#ff6e6e"/>
<rect x="305.6" y="434" width="2" height="277.6" fill="#ff8b8b"/>
<rect x="307.6" y="434" width="2.5" height="277.6" fill="#ff6c6c"/>
<polyline fill="none" stroke="#0000ff" stroke-width="2.2" stroke-linejoin="round" stroke-linecap="butt" points="94.4,691.14 98.01,689.14 104.02,688.54 106.82,688.54 107.22,620.06 108.02,496.08 116.43,496.08 118.43,501.68 121.03,502.68 122.44,509.09 124.04,529.11 125.64,553.14 126.64,573.16 127.04,592.03 129.04,597.04 130.64,601.04 132.05,601.04 133.65,592.44 135.25,592.03 136.65,602.05 138.05,603.05 139.05,620.06 141.66,638.08 143.66,649.7 147.06,650.1 148.06,684.13 150.06,687.74 154.07,689.14 160.08,689.54 164.48,688.54 166.08,687.14 173.09,687.14 175.09,686.54 179.1,687.54 183.1,689.74 185.1,690.14 187.1,689.14 194.51,688.74 198.12,684.53 201.12,681.73 203.72,680.73 205.12,677.13 206.13,667.12 209.13,661.71 211.13,659.51 213.13,656.1 215.14,646.09 217.14,643.69 219.14,638.08 222.14,634.08 225.15,628.07 227.15,623.67 229.55,621.67 233.15,613.06 235.16,608.05 237.76,607.45 239.16,599.04 240.76,588.03 241.16,587.18 244.17,585.77 247.17,579.17 249.17,572.16 251.17,557.14 253.78,555.54 254.58,551.54 260.18,551.14 264.19,546.13 266.19,545.13 268.19,540.73 269.19,515.1 270.8,495.08 271.8,447.02 273.2,445.62 278.2,445.62 279.2,449.03 280.21,493.07 281.81,501.08 283.21,509.09 284.61,511.09 285.81,520.1 289.22,521.1 290.82,531.11 292.22,537.12 293.82,538.72 294.82,546.53 297.22,548.13 298.83,561.15 302.23,561.75 303.23,563.15 317.25,657.51 318.65,666.11 319.85,680.13 320.85,687.14 325.25,690.74 330.26,692.54 336.27,693.34 346.28,693.34 358.29,694.55 370.3,693.74 378.31,694.15 382.32,696.15 388.32,698.15 396.33,698.75 410.35,698.55 430.37,698.15 436.37,697.75 437.78,687.14 440.38,684.13 442.38,679.73 450.39,679.73 451.99,684.53"/>
<line x1="375.91" y1="563.15" x2="288.77" y2="460.36" stroke="#000" stroke-width="0.9"/>
<polygon points="278.2,448.02 297.62,456.03 288.77,460.36 282.81,468.05" fill="#000"/>
<g transform="translate(279 563) scale(1.0012 1.0261)" clip-path="url(#clipP)"><g filter="url(#blur)">
<rect width="164" height="92" fill="url(#gA)"/>
<polygon points="0.0,0.0 31.7,0.0 16.6,24.4 0.0,25.6" fill="#141712" />
<polygon points="0.0,15.9 9.4,14.5 22.1,15.3 16.6,24.4 0.0,25.6" fill="#3f5526" />
<polygon points="27.3,0.0 31.7,0.0 16.6,24.4 13.0,24.4" fill="#46602a" />
<polyline points="10.0,1.4 14.2,22.0" fill="none" stroke="#8a8a7a" stroke-width="0.96" />
<rect x="14.8" y="14.7" width="4.8" height="8.4" fill="#1a1a1c" />
<polygon points="0.0,25.6 16.6,24.4 7.0,43.1 0.0,43.7" fill="#4d4f55" />
<polygon points="0.0,43.7 7.0,43.1 0.0,58.1" fill="#7d7f85" />
<polygon points="131.2,0.0 163.8,0.0 163.8,13.5 155.3,11.7" fill="#8c8c92" />
<polygon points="116.7,0.0 131.2,0.0 155.3,11.7 145.7,12.3 131.2,8.1" fill="#4e5c32" />
<polyline points="102.3,0.0 115.5,3.9 131.2,9.9 145.7,13.3 163.8,15.0" fill="none" stroke="#3f4248" stroke-width="2.41" />
<polygon points="134.8,15.3 163.8,16.5 163.8,34.0 151.7,24.4" fill="#8b8a8a" opacity="0.6"/>
<ellipse cx="98.3" cy="40.9" rx="5.4" ry="2.4" fill="#868b8d" />
<ellipse cx="122.2" cy="38.4" rx="5.1" ry="2.4" fill="#868b8d" />
<ellipse cx="40.4" cy="17.5" rx="1.6" ry="1.4" fill="#1b1b1d" />
<polygon points="41.1,19.1 45.0,19.5 46.2,28.6 42.2,29.4" fill="#6a2a31" />
<polygon points="44.4,20.7 47.0,21.3 47.0,27.0 45.0,27.0" fill="#1c1c20" />
<polygon points="42.0,29.2 46.2,28.6 47.0,35.2 43.8,37.6 42.9,34.0" fill="#23242a" />
<circle cx="68.7" cy="24.1" r="3.4" fill="#a09fa2" stroke="#55555a" stroke-width="1.1"/>
<circle cx="80.8" cy="23.4" r="3.1" fill="#a09fa2" stroke="#55555a" stroke-width="1.1"/>
<ellipse cx="75.7" cy="10.5" rx="1.3" ry="1.3" fill="#2a2a2e" />
<polygon points="73.9,12.1 78.8,12.3 78.4,18.3 73.9,18.1" fill="#6e7480" />
<polygon points="73.3,18.1 78.2,18.3 77.5,24.4 74.5,24.4" fill="#3f5270" />
<polyline points="70.3,17.7 74.5,14.7" fill="none" stroke="#6e6e74" stroke-width="0.72" />
<ellipse cx="112.5" cy="4.8" rx="1.1" ry="1.1" fill="#2a2a2e" />
<polygon points="110.5,6.3 114.1,6.3 114.1,12.9 110.5,12.9" fill="#62b08c" />
<polyline points="111.7,12.9 107.7,19.5" fill="none" stroke="#56607c" stroke-width="1.33" />
<polyline points="112.9,12.9 114.9,20.4" fill="none" stroke="#56607c" stroke-width="1.33" />
<polygon points="140.3,2.7 144.1,2.7 143.5,12.3 140.3,12.3" fill="#1d1d20" />
<polyline points="141.5,12.3 140.9,16.2" fill="none" stroke="#9a7a50" stroke-width="1.21" />
<polygon points="161.4,39.4 163.8,38.8 163.8,50.3 160.4,51.5" fill="#5a5a4a" />
</g></g>
<rect x="94.3" y="434" width="363.9" height="277.6" fill="none" stroke="#3a3a3a" stroke-width="1"/>
<path d="M94.3 711.6v3.8M151.58 711.6v3.8M208.87 711.6v3.8M266.15 711.6v3.8M323.44 711.6v3.8M380.73 711.6v3.8M438.01 711.6v3.8M94.3 460.2h-3.8M94.3 507.5h-3.8M94.3 555.3h-3.8M94.3 603h-3.8M94.3 650.8h-3.8M94.3 698.8h-3.8" stroke="#3a3a3a" stroke-width="1" fill="none"/>
<text transform="translate(97.2 738)" font-size="24" text-anchor="middle">0</text>
<text transform="translate(151.4 738)" font-size="24" text-anchor="middle">50</text>
<text transform="translate(208.2 738)" font-size="24" text-anchor="middle">100</text>
<text transform="translate(266.6 738)" font-size="24" text-anchor="middle">150</text>
<text transform="translate(323.7 738)" font-size="24" text-anchor="middle">200</text>
<text transform="translate(383.3 738)" font-size="24" text-anchor="middle">250</text>
<text transform="translate(444.7 738)" font-size="24" text-anchor="middle">300</text>
<text transform="translate(80.4 708) scale(0.9600 1.0800)" font-size="24" text-anchor="end">0.0</text>
<text transform="translate(80.4 657.7) scale(0.9600 1.0800)" font-size="24" text-anchor="end">0.2</text>
<text transform="translate(80.4 607.8) scale(0.9600 1.0800)" font-size="24" text-anchor="end">0.4</text>
<text transform="translate(80.4 558.2) scale(0.9600 1.0800)" font-size="24" text-anchor="end">0.6</text>
<text transform="translate(80.4 507.5) scale(0.9600 1.0800)" font-size="24" text-anchor="end">0.8</text>
<text transform="translate(80.4 456.8) scale(0.9600 1.0800)" font-size="24" text-anchor="end">1.0</text>
<text transform="translate(270 426.2)" font-size="24.65" text-anchor="middle">ShanghaiTech “01_0177”</text>
<text transform="translate(277.7 770.6) scale(1.0000 1.0500)" font-size="30.7" text-anchor="middle">Frames</text>
<text transform="translate(35.4 569.8) rotate(-90)" font-size="31.4" text-anchor="middle">Score</text>
</g>
<g>
<rect x="595" y="444.3" width="43" height="277.7" fill="#ff8080"/>
<rect x="750.6" y="444.3" width="58.2" height="277.7" fill="#ff8080"/>
<polyline fill="none" stroke="#0000ff" stroke-width="2.2" stroke-linejoin="round" stroke-linecap="butt" points="542.4,708.76 594.46,708.76 596.06,703.15 597.66,699.15 599.06,689.13 600.06,680.12 601.07,674.12 603.07,671.72 611.08,577.55 611.68,535.11 612.48,505.08 613.48,492.06 614.48,491.46 615.08,507.08 616.08,507.48 616.88,483.05 617.68,475.04 618.69,483.05 620.09,491.06 621.49,491.06 622.49,483.05 623.49,480.05 624.09,456.02 627.09,456.02 628.1,487.06 629.1,510.08 630.1,512.08 631.1,552.13 632.1,555.13 633.1,577.55 636.7,671.72 637.1,708.76 670.14,708.76 684.16,708.15 710.18,708.15 732.21,707.95 740.22,707.55 750.23,707.55 758.24,707.55 762.24,706.15 765.24,704.55 767.25,700.15 768.65,697.14 775.25,697.14 777.26,693.14 778.66,691.14 779.66,681.53 781.26,681.53 782.26,693.14 783.86,697.54 786.27,698.14 788.27,696.14 789.87,697.14 791.27,700.55 796.28,700.55 797.88,698.54 800.28,698.14 801.28,696.54 804.29,696.14 806.29,694.74 811.29,695.14 813.3,697.14 815.3,695.14 818.3,695.14 821.3,697.54 824.31,699.15 828.31,699.15 830.31,697.74 834.32,698.34 840.32,697.94 846.33,698.74 852.34,698.74 855.34,697.14 860.35,697.74 864.35,700.15 870.36,701.75 876.36,703.55 880.37,706.75 882.37,708.76 901.39,708.76"/>
<line x1="656.73" y1="577.55" x2="631.33" y2="472.63" stroke="#000" stroke-width="0.9"/>
<polygon points="625.69,456.42 623.09,477.05 631.33,472.63 641.11,472.64" fill="#000"/>
<line x1="793.67" y1="570.61" x2="783.98" y2="660.78" stroke="#000" stroke-width="0.9"/>
<polygon points="781.86,677.52 774.65,657.5 783.98,660.78 793.87,659.5" fill="#000"/>
<g transform="translate(564 577.4) scale(1.0000 1.0239)" clip-path="url(#clipP)"><g filter="url(#blur)">
<rect width="164" height="92" fill="url(#gB)"/>
<polygon points="0.0,34.7 10.6,33.5 25.1,27.5 33.5,20.9 34.1,17.2 27.5,7.0 19.1,2.2 19.1,0.0 43.2,0.0 43.2,4.0 62.5,13.0 57.6,31.1 52.8,42.6 0.0,43.2" fill="url(#gBs)" />
<polyline points="25.1,5.2 57.6,13.0" fill="none" stroke="#b9a24a" stroke-width="0.60" />
<polygon points="3.4,0.0 10.6,0.0 27.5,8.2 28.7,19.1 19.1,26.3 0.0,33.5 0.0,19.1 3.4,16.6" fill="#5b5648" />
<polygon points="3.4,0.4 25.1,6.4 26.9,9.6 19.1,11.8 9.4,8.4 4.6,7.0" fill="#4c5e2c" />
<polygon points="0.0,0.0 3.4,0.0 3.4,17.8 0.0,17.8" fill="#f4f4f2" />
<rect x="0.0" y="17.8" width="6.0" height="12.1" fill="#c9c9cb" />
<polyline points="6.4,2.2 9.4,17.8 7.0,25.1" fill="none" stroke="#a08868" stroke-width="1.09" />
<polygon points="0.0,29.9 19.1,24.5 20.9,26.5 0.0,34.1" fill="#5f6b38" />
<polyline points="0.0,37.1 10.6,33.8 25.1,27.7 32.6,22.1 33.8,17.8 30.9,15.2" fill="none" stroke="#bdb5a5" stroke-width="2.17" stroke-linejoin="round"/>
<polygon points="43.2,0.0 164.4,0.0 164.4,31.1 115.5,17.8 79.4,9.4 43.2,4.0" fill="#8d8e78" />
<polygon points="62.5,0.0 164.4,0.0 164.4,14.2 115.5,8.8 91.4,5.2" fill="#ece9dd" />
<polygon points="43.2,0.0 67.3,0.0 115.5,11.2 114.3,16.0 79.4,9.4 43.2,4.0" fill="#6a6b60" />
<ellipse cx="131.2" cy="7.6" rx="5.1" ry="7.5" fill="#7f8a62" opacity="0.85"/>
<ellipse cx="147.1" cy="8.4" rx="4.8" ry="8.4" fill="#8a9470" opacity="0.85"/>
<ellipse cx="160.4" cy="8.4" rx="4.6" ry="8.7" fill="#7f8a62" opacity="0.85"/>
<polygon points="114.3,14.8 164.4,18.5 164.4,30.8 139.7,24.5" fill="#3f4b20" />
<polygon points="115.5,19.1 164.4,23.9 164.4,30.8 139.7,24.5" fill="#3f4a24" opacity="0.6"/>
<polyline points="43.2,4.3 79.4,9.9 115.5,18.3 164.4,31.7" fill="none" stroke="#9c9a94" stroke-width="0.96" />
<polygon points="32.2,14.1 63.0,13.9 64.8,15.1 32.8,15.9" fill="#f2f2f2" />
<polygon points="30.4,26.8 35.8,25.9 45.5,31.4 38.8,32.8" fill="#f2f2f2" />
<polygon points="35.8,21.5 41.9,20.7 65.4,30.8 56.9,31.6" fill="#f2f2f2" />
<polygon points="42.5,18.3 48.5,17.8 84.7,31.4 76.2,32.3" fill="#f2f2f2" />
<polygon points="56.9,18.1 64.2,17.7 104.0,31.4 96.7,32.8" fill="#f2f2f2" />
<polygon points="71.4,18.1 78.6,17.8 122.7,32.0 114.8,33.2" fill="#f2f2f2" />
<polygon points="85.3,18.3 91.9,18.1 140.7,32.8 132.9,33.8" fill="#f2f2f2" />
<polygon points="99.1,19.1 106.4,18.8 155.8,33.5 148.6,34.6" fill="#f2f2f2" />
<polygon points="112.4,19.9 118.4,19.7 164.0,32.8 164.0,34.7" fill="#f2f2f2" />
<rect width="164" height="92" fill="#fff" opacity="0.13"/>
<rect width="164" height="92" fill="url(#gHz)"/>
<polygon points="27.5,40.2 39.6,39.8 40.8,42.0 28.7,42.2" fill="#3b3c44" opacity="0.6"/>
<ellipse cx="53.4" cy="20.0" rx="2.4" ry="2.1" fill="#3a2e28" />
<ellipse cx="52.8" cy="22.4" rx="1.2" ry="1.7" fill="#c09a80" />
<polygon points="54.6,23.9 62.5,24.5 65.5,37.1 56.4,38.6" fill="#2f3142" />
<polyline points="55.8,31.1 60.7,32.3" fill="none" stroke="#c09a80" stroke-width="1.45" />
<polygon points="52.8,37.7 64.9,37.1 73.3,51.6 69.7,54.0 61.9,45.6 58.9,51.0 54.0,45.6 51.6,42.6" fill="#9a8b62" />
<polygon points="55.8,49.8 60.7,49.2 61.3,51.4 55.8,51.9" fill="#3a3a3a" />
<polygon points="70.3,52.8 73.9,51.0 74.5,54.0 71.5,57.0" fill="#4a4a4e" />
<ellipse cx="120.4" cy="26.9" rx="2.7" ry="2.4" fill="#2c241e" />
<polygon points="124.6,25.1 130.0,25.7 132.2,32.3 128.2,35.9 125.2,31.1" fill="#3a6e3a" />
<polygon points="119.2,30.5 125.8,30.2 129.0,45.0 121.0,46.2" fill="#8c2b38" />
<polyline points="120.4,41.4 111.9,43.2" fill="none" stroke="#d2a684" stroke-width="1.57" />
<polygon points="118.0,45.6 129.4,44.4 127.6,52.8 121.6,51.6 117.0,49.2" fill="#b3a070" />
<polyline points="125.8,52.2 128.8,58.9" fill="none" stroke="#c49a78" stroke-width="1.69" />
<polygon points="126.4,58.9 132.2,58.3 132.2,61.0 127.0,61.9" fill="#cfcfc8" />
</g></g>
<g transform="translate(730.4 476) scale(1.0000 1.0261)" clip-path="url(#clipP)"><g filter="url(#blur)">
<rect width="164" height="92" fill="url(#gB)"/>
<polygon points="0.0,34.7 10.6,33.5 25.1,27.5 33.5,20.9 34.1,17.2 27.5,7.0 19.1,2.2 19.1,0.0 43.2,0.0 43.2,4.0 62.5,13.0 57.6,31.1 52.8,42.6 0.0,43.2" fill="url(#gBs)" />
<polyline points="25.1,5.2 57.6,13.0" fill="none" stroke="#b9a24a" stroke-width="0.60" />
<polygon points="3.4,0.0 10.6,0.0 27.5,8.2 28.7,19.1 19.1,26.3 0.0,33.5 0.0,19.1 3.4,16.6" fill="#5b5648" />
<polygon points="3.4,0.4 25.1,6.4 26.9,9.6 19.1,11.8 9.4,8.4 4.6,7.0" fill="#4c5e2c" />
<polygon points="0.0,0.0 3.4,0.0 3.4,17.8 0.0,17.8" fill="#f4f4f2" />
<rect x="0.0" y="17.8" width="6.0" height="12.1" fill="#c9c9cb" />
<polyline points="6.4,2.2 9.4,17.8 7.0,25.1" fill="none" stroke="#a08868" stroke-width="1.09" />
<polygon points="0.0,29.9 19.1,24.5 20.9,26.5 0.0,34.1" fill="#5f6b38" />
<polyline points="0.0,37.1 10.6,33.8 25.1,27.7 32.6,22.1 33.8,17.8 30.9,15.2" fill="none" stroke="#bdb5a5" stroke-width="2.17" stroke-linejoin="round"/>
<polygon points="43.2,0.0 164.4,0.0 164.4,31.1 115.5,17.8 79.4,9.4 43.2,4.0" fill="#8d8e78" />
<polygon points="62.5,0.0 164.4,0.0 164.4,14.2 115.5,8.8 91.4,5.2" fill="#ece9dd" />
<polygon points="43.2,0.0 67.3,0.0 115.5,11.2 114.3,16.0 79.4,9.4 43.2,4.0" fill="#6a6b60" />
<ellipse cx="131.2" cy="7.6" rx="5.1" ry="7.5" fill="#7f8a62" opacity="0.85"/>
<ellipse cx="147.1" cy="8.4" rx="4.8" ry="8.4" fill="#8a9470" opacity="0.85"/>
<ellipse cx="160.4" cy="8.4" rx="4.6" ry="8.7" fill="#7f8a62" opacity="0.85"/>
<polygon points="114.3,14.8 164.4,18.5 164.4,30.8 139.7,24.5" fill="#3f4b20" />
<polygon points="115.5,19.1 164.4,23.9 164.4,30.8 139.7,24.5" fill="#3f4a24" opacity="0.6"/>
<polyline points="43.2,4.3 79.4,9.9 115.5,18.3 164.4,31.7" fill="none" stroke="#9c9a94" stroke-width="0.96" />
<polygon points="32.2,14.1 63.0,13.9 64.8,15.1 32.8,15.9" fill="#f2f2f2" />
<polygon points="30.4,26.8 35.8,25.9 45.5,31.4 38.8,32.8" fill="#f2f2f2" />
<polygon points="35.8,21.5 41.9,20.7 65.4,30.8 56.9,31.6" fill="#f2f2f2" />
<polygon points="42.5,18.3 48.5,17.8 84.7,31.4 76.2,32.3" fill="#f2f2f2" />
<polygon points="56.9,18.1 64.2,17.7 104.0,31.4 96.7,32.8" fill="#f2f2f2" />
<polygon points="71.4,18.1 78.6,17.8 122.7,32.0 114.8,33.2" fill="#f2f2f2" />
<polygon points="85.3,18.3 91.9,18.1 140.7,32.8 132.9,33.8" fill="#f2f2f2" />
<polygon points="99.1,19.1 106.4,18.8 155.8,33.5 148.6,34.6" fill="#f2f2f2" />
<polygon points="112.4,19.9 118.4,19.7 164.0,32.8 164.0,34.7" fill="#f2f2f2" />
<rect width="164" height="92" fill="#fff" opacity="0.13"/>
<rect width="164" height="92" fill="url(#gHz)"/>
<polygon points="32.8,32.0 42.5,32.6 50.9,41.6 47.3,42.8" fill="#3b3c44" opacity="0.55"/>
<ellipse cx="57.2" cy="11.2" rx="2.2" ry="1.7" fill="#2a2624" />
<polygon points="57.5,15.1 62.4,15.7 63.6,28.9 57.5,30.2" fill="#f3f3f3" />
<polyline points="58.1,22.9 49.7,23.2" fill="none" stroke="#c9a489" stroke-width="1.45" />
<polygon points="56.3,30.2 61.8,29.9 60.5,37.4 56.3,36.8" fill="#3a3c4c" />
<polyline points="58.7,36.8 59.9,43.4" fill="none" stroke="#b98a70" stroke-width="1.45" />
<polyline points="59.9,36.8 64.8,41.0" fill="none" stroke="#b98a70" stroke-width="1.45" />
<polygon points="56.9,42.8 62.4,42.8 62.4,44.9 56.9,44.9" fill="#1e1e22" />
<polygon points="63.9,39.6 67.2,38.8 66.6,44.0 64.4,44.6" fill="#e8e8e8" />
<ellipse cx="124.7" cy="14.7" rx="2.4" ry="2.2" fill="#3a3026" />
<polygon points="125.1,19.3 130.5,19.3 133.1,32.6 126.3,34.0" fill="#6ea590" />
<polyline points="125.1,22.3 117.2,19.9 113.6,17.1" fill="none" stroke="#8a5a3c" stroke-width="1.57" />
<polygon points="125.1,33.8 134.1,32.8 132.9,41.6 125.1,42.8" fill="#6c7690" />
<polyline points="129.3,42.2 137.1,45.2" fill="none" stroke="#a06a40" stroke-width="1.93" />
<polyline points="131.1,46.4 137.7,47.6" fill="none" stroke="#a06a40" stroke-width="1.45" />
</g></g>
<rect x="542.4" y="444.3" width="363.6" height="277.7" fill="none" stroke="#3a3a3a" stroke-width="1"/>
<path d="M542.5 722v3.8M589.74 722v3.8M636.98 722v3.8M684.22 722v3.8M731.46 722v3.8M778.7 722v3.8M825.94 722v3.8M873.18 722v3.8M542.4 474.8h-3.8M542.4 521.5h-3.8M542.4 568.6h-3.8M542.4 615.5h-3.8M542.4 662.4h-3.8M542.4 708.7h-3.8" stroke="#3a3a3a" stroke-width="1" fill="none"/>
<text transform="translate(550.3 747.9)" font-size="24" text-anchor="middle">0</text>
<text transform="translate(593.7 747.9)" font-size="24" text-anchor="middle">50</text>
<text transform="translate(639.4 747.9)" font-size="24" text-anchor="middle">100</text>
<text transform="translate(686.6 747.9)" font-size="24" text-anchor="middle">150</text>
<text transform="translate(732.4 747.9)" font-size="24" text-anchor="middle">200</text>
<text transform="translate(780.9 747.9)" font-size="24" text-anchor="middle">250</text>
<text transform="translate(831.2 747.9)" font-size="24" text-anchor="middle">300</text>
<text transform="translate(881.8 747.9)" font-size="24" text-anchor="middle">350</text>
<text transform="translate(530.4 717.4) scale(0.9600 1.0800)" font-size="24" text-anchor="end">0.0</text>
<text transform="translate(530.4 667.5) scale(0.9600 1.0800)" font-size="24" text-anchor="end">0.2</text>
<text transform="translate(530.4 616.1) scale(0.9600 1.0800)" font-size="24" text-anchor="end">0.4</text>
<text transform="translate(530.4 566.2) scale(0.9600 1.0800)" font-size="24" text-anchor="end">0.6</text>
<text transform="translate(530.4 515.5) scale(0.9600 1.0800)" font-size="24" text-anchor="end">0.8</text>
<text transform="translate(530.4 464.8) scale(0.9600 1.0800)" font-size="24" text-anchor="end">1.0</text>
<text transform="translate(718.2 436.2)" font-size="24.65" text-anchor="middle">ShanghaiTech “03_0035”</text>
<text transform="translate(731.6 781.2) scale(1.0000 1.0500)" font-size="30.7" text-anchor="middle">Frames</text>
<text transform="translate(485.6 578.8) rotate(-90)" font-size="31.4" text-anchor="middle">Score</text>
</g>
<g>
<rect x="1104.6" y="440.4" width="50.4" height="278" fill="#ff8080"/>
<polyline fill="none" stroke="#0000ff" stroke-width="2.2" stroke-linejoin="round" stroke-linecap="butt" points="991.41,705.16 995.01,703.76 1007.02,703.15 1015.03,701.75 1022.04,702.15 1024.04,703.76 1031.05,703.76 1037.06,701.75 1049.07,700.75 1057.08,701.15 1071.09,701.15 1074.1,700.15 1078.1,700.15 1081.1,701.35 1089.11,701.35 1094.12,699.55 1099.12,699.55 1101.13,697.15 1104.13,695.75 1107.13,691.14 1110.14,689.14 1111.54,682.13 1113.14,675.12 1114.14,669.72 1116.14,669.12 1118.14,663.11 1119.75,658.11 1121.75,656.7 1123.15,644.09 1124.15,636.08 1126.15,630.08 1127.55,620.06 1128.56,603.05 1130.16,596.04 1131.16,586.03 1132.56,583.02 1133.56,550.13 1134.16,526.1 1135.16,518.1 1136.76,517.49 1137.77,505.08 1138.77,495.67 1140.57,492.07 1141.77,495.07 1144.17,495.07 1144.77,490.06 1145.17,465.04 1147.18,464.44 1148.18,453.02 1150.18,453.02 1150.78,470.04 1151.78,510.09 1152.78,534.11 1153.78,570.15 1154.78,701.15 1157.19,702.15 1165.19,701.15 1167.2,698.75 1171.2,698.75 1174.2,697.75 1179.21,698.55 1185.22,697.75 1193.23,696.75 1200.23,696.75 1202.23,695.15 1206.24,695.15 1211.24,693.74 1219.25,694.35 1229.26,694.95 1235.27,694.15 1239.27,695.15 1243.28,692.14 1245.28,691.74 1247.68,691.14 1249.29,692.14 1253.29,689.74 1258.3,690.74 1260.3,691.74 1263.3,687.74 1268.31,687.14 1269.71,681.73 1273.31,679.53 1275.31,677.53 1277.72,678.13 1280.92,671.12 1284.32,673.12 1287.33,677.13 1289.73,672.72 1290.93,676.13 1294.94,676.13 1296.34,672.12 1297.34,675.12 1300.34,671.12 1303.74,671.52 1305.75,676.13 1308.35,678.13 1311.35,676.13 1315.36,679.13 1319.36,676.13 1323.37,677.73 1329.37,674.72 1332.38,676.13 1338.38,676.13 1339.78,686.14 1341.99,692.14 1342.99,705.56 1350.4,705.56"/>
<line x1="1252.29" y1="561.14" x2="1160.63" y2="467.74" stroke="#000" stroke-width="0.9"/>
<polygon points="1149.18,456.03 1169.2,463.04 1160.63,467.74 1155.18,475.65" fill="#000"/>
<g transform="translate(1169 561) scale(0.9988 1.0261)" clip-path="url(#clipP)"><g filter="url(#blur)">
<rect width="164" height="92" fill="url(#gD)"/>
<polygon points="0.0,0.0 163.8,0.0 163.8,78.2 103.5,55.2 72.1,45.6 45.6,34.7 19.1,26.5 0.0,19.1" fill="#9f9c98" />
<polygon points="0.0,0.0 163.8,0.0 163.8,19.1 79.4,22.7 0.0,19.1" fill="#c4c6bc" />
<polygon points="40.8,8.2 151.7,7.0 151.7,17.2 79.4,20.9 40.8,22.1" fill="#cfcfca" />
<polygon points="0.0,0.0 48.0,0.0 46.8,10.6 34.7,8.2 28.7,17.8 0.0,19.1" fill="#476328" />
<polygon points="0.0,7.0 28.7,8.2 27.5,19.1 0.0,18.5" fill="#3a4a28" />
<polygon points="19.1,0.0 48.0,0.0 46.8,8.2 31.1,9.4 20.3,5.8" fill="#6f9a3c" />
<polygon points="50.4,0.0 62.5,0.0 62.5,11.8 52.8,10.6" fill="#5f8a3a" />
<polygon points="68.5,0.0 87.8,0.0 87.8,9.4 69.7,8.2" fill="#7a9a58" />
<polygon points="92.6,0.0 103.5,0.0 102.3,10.6 93.2,9.4" fill="#5e7c44" />
<polygon points="116.7,0.0 124.6,0.0 122.8,8.2 117.4,9.4" fill="#8aa86a" />
<polygon points="101.1,0.0 108.3,0.0 108.3,7.0 101.1,7.0" fill="#3c4040" />
<polygon points="127.6,1.0 137.3,1.0 137.3,9.4 127.6,9.4" fill="#3a3e44" opacity="0.7"/>
<rect x="2.2" y="7.0" width="1.4" height="12.1" fill="#3a3426" />
<rect x="7.0" y="7.0" width="1.4" height="12.1" fill="#3a3426" />
<rect x="13.0" y="7.0" width="1.4" height="12.1" fill="#3a3426" />
<rect x="20.9" y="7.0" width="1.4" height="12.1" fill="#3a3426" />
<rect x="26.5" y="7.0" width="1.4" height="12.1" fill="#3a3426" />
<polyline points="35.9,5.8 35.3,16.6 36.5,26.3" fill="none" stroke="#a9805e" stroke-width="2.41" />
<polyline points="35.3,15.4 31.1,23.9" fill="none" stroke="#a9805e" stroke-width="0.96" />
<polyline points="35.9,15.4 41.4,20.9" fill="none" stroke="#a9805e" stroke-width="0.96" />
<polygon points="0.0,17.8 19.1,19.1 49.2,23.3 79.4,29.3 72.1,45.0 45.6,34.7 19.1,26.5 0.0,18.8" fill="#6f8444" />
<polygon points="19.1,24.5 34.7,25.7 31.1,29.3 20.3,27.3" fill="#b7a77c" />
<polygon points="72.1,45.6 103.5,55.2 150.5,34.7 154.1,17.2 103.5,20.9 79.4,29.3 67.3,31.1 52.8,34.7" fill="#9f9c98" />
<polygon points="67.3,23.9 110.7,17.8 110.7,23.9 69.7,31.1" fill="#a5a39c" opacity="0.7"/>
<polygon points="99.9,52.6 149.3,32.3 151.7,37.7 109.5,56.2" fill="#b6b6ba" />
<polygon points="109.5,56.2 151.7,37.7 163.8,35.9 163.8,78.2" fill="#6c7c42" />
<polygon points="139.7,57.6 163.8,57.6 163.8,72.1 151.7,67.3" fill="#7a7350" opacity="0.6"/>
<polyline points="0.0,19.8 19.1,27.3 45.6,36.2 72.1,47.0 103.5,56.9 163.8,80.3" fill="none" stroke="#7c7e8e" stroke-width="3.14" />
<polygon points="0.0,64.9 17.2,91.8 0.0,91.8" fill="#a6a8ae" />
<polygon points="0.0,29.9 22.7,27.5 23.9,29.3 0.0,34.1" fill="#a38f6f" opacity="0.8"/>
<polygon points="149.3,0.0 163.8,0.0 163.8,17.8 159.6,13.0 150.5,9.4" fill="#44602a" />
<polygon points="159.6,16.6 163.8,15.4 163.8,45.6 160.2,43.2" fill="#4f6a30" />
<polygon points="154.7,4.6 159.0,4.6 158.5,58.3 153.7,58.3" fill="#4a3a2c" />
<polyline points="152.3,31.1 136.0,60.1" fill="none" stroke="#6a5a40" stroke-width="0.72" />
<polyline points="152.9,34.7 146.3,56.4" fill="none" stroke="#6a5a40" stroke-width="0.60" />
<polyline points="150.5,31.1 144.5,45.6" fill="none" stroke="#6a5a40" stroke-width="0.60" />
<rect x="63.4" y="0.0" width="4.2" height="32.6" fill="#f5f5f5" />
<rect x="88.8" y="0.0" width="3.4" height="27.7" fill="#f5f5f5" />
<rect x="108.3" y="0.0" width="3.1" height="24.1" fill="#f2f2f2" />
<polygon points="112.5,0.0 116.1,0.0 120.6,46.2 116.1,46.2" fill="#f5f5f5" />
<polygon points="124.6,0.0 127.6,0.0 120.4,31.1 118.0,29.9" fill="#f5f5f5" />
<polygon points="133.6,0.0 136.3,0.0 136.3,16.6 133.6,16.6" fill="#f0f0f0" />
<polygon points="138.2,0.0 141.2,0.0 141.8,37.7 138.7,37.7" fill="#f5f5f5" />
<polygon points="145.1,0.0 147.9,0.0 143.9,25.1 141.8,23.9" fill="#f5f5f5" />
<rect x="49.4" y="1.0" width="1.7" height="30.8" fill="#e8e8e8" />
<rect x="55.8" y="22.1" width="6.0" height="7.2" fill="#c9c9c5" />
<rect x="101.1" y="37.1" width="1.9" height="13.0" fill="#4a4a48" />
<rect x="114.9" y="33.5" width="1.7" height="11.8" fill="#4a4a48" />
<rect x="127.6" y="31.1" width="1.6" height="9.9" fill="#4a4a48" />
<rect x="137.9" y="27.5" width="1.3" height="9.9" fill="#4a4a48" />
<rect x="145.7" y="25.1" width="1.3" height="8.7" fill="#4a4a48" />
<rect x="67.3" y="23.9" width="1.4" height="9.9" fill="#4a4a48" />
<rect x="80.6" y="22.1" width="1.4" height="9.3" fill="#4a4a48" />
<rect x="92.0" y="20.9" width="1.3" height="8.7" fill="#4a4a48" />
<polygon points="61.0,68.7 63.9,68.0 90.2,83.9 87.2,85.6" fill="#e4b35a" />
<polygon points="22.1,43.2 23.9,42.7 31.7,48.6 29.9,49.4" fill="#e4b35a" />
<polygon points="5.8,32.6 7.6,32.1 10.9,35.0 9.2,35.7" fill="#dab060" />
<ellipse cx="21.5" cy="49.4" rx="4.8" ry="1.7" fill="#d6d6d6" />
<ellipse cx="26.3" cy="27.3" rx="1.6" ry="1.4" fill="#1c1c1e" />
<polygon points="26.7,29.3 30.5,29.7 32.0,37.7 27.3,38.6" fill="#f0f0f0" />
<polyline points="27.5,33.5 23.3,35.3" fill="none" stroke="#c09070" stroke-width="1.09" />
<polygon points="25.3,37.7 31.7,37.4 33.5,41.4 25.7,42.2" fill="#1c1c22" />
<polyline points="32.3,41.7 36.5,46.2" fill="none" stroke="#c09070" stroke-width="1.33" />
<polyline points="27.3,42.0 28.9,45.6" fill="none" stroke="#c09070" stroke-width="1.33" />
<rect x="27.7" y="45.0" width="2.4" height="2.1" fill="#1c1c1e" />
<rect x="35.7" y="45.3" width="2.4" height="2.4" fill="#1c1c1e" />
<ellipse cx="56.2" cy="27.3" rx="1.6" ry="1.4" fill="#1c1c1e" />
<polygon points="56.8,29.3 61.9,29.7 63.9,39.0 58.5,39.8" fill="#2a2c35" />
<polygon points="57.0,39.0 64.3,38.4 65.1,42.9 57.6,43.4" fill="#6c6e6a" />
<polyline points="63.1,42.6 70.3,47.8" fill="none" stroke="#c09070" stroke-width="1.33" />
<polyline points="57.9,43.2 58.6,48.0" fill="none" stroke="#c09070" stroke-width="1.33" />
<polygon points="101.7,19.1 105.5,19.1 105.5,26.5 101.7,26.5" fill="#32364a" />
<ellipse cx="103.5" cy="17.8" rx="1.2" ry="1.2" fill="#2a2420" />
<polygon points="101.7,26.5 105.3,26.5 104.9,33.8 101.3,33.8" fill="#9a8a60" />
<polygon points="125.8,22.9 130.3,22.9 129.7,30.2 126.0,30.2" fill="#9c2b30" />
<ellipse cx="127.8" cy="21.2" rx="1.2" ry="1.2" fill="#3a2c24" />
<polygon points="126.0,30.2 129.4,30.2 128.8,36.2 125.8,36.2" fill="#a8956a" />
<polygon points="121.6,21.7 124.9,21.7 124.6,30.5 121.3,30.5" fill="#7f9a96" />
</g></g>
<rect x="991.4" y="440.4" width="363.4" height="278" fill="none" stroke="#3a3a3a" stroke-width="1"/>
<path d="M991.4 718.4v3.8M1066.88 718.4v3.8M1142.36 718.4v3.8M1217.84 718.4v3.8M1293.32 718.4v3.8M991.4 472.4h-3.8M991.4 511.5h-3.8M991.4 550.5h-3.8M991.4 589.6h-3.8M991.4 628.3h-3.8M991.4 666.9h-3.8M991.4 705.5h-3.8" stroke="#3a3a3a" stroke-width="1" fill="none"/>
<text transform="translate(1001.4 743.9)" font-size="24" text-anchor="middle">0</text>
<text transform="translate(1075.5 743.9)" font-size="24" text-anchor="middle">100</text>
<text transform="translate(1149.4 743.9)" font-size="24" text-anchor="middle">200</text>
<text transform="translate(1226.5 743.9)" font-size="24" text-anchor="middle">300</text>
<text transform="translate(1304.7 743.9)" font-size="24" text-anchor="middle">400</text>
<text transform="translate(979 713.1) scale(0.9600 1.0800)" font-size="24" text-anchor="end">0.0</text>
<text transform="translate(979 663.1) scale(0.9600 1.0800)" font-size="24" text-anchor="end">0.2</text>
<text transform="translate(979 612.5) scale(0.9600 1.0800)" font-size="24" text-anchor="end">0.4</text>
<text transform="translate(979 561.8) scale(0.9600 1.0800)" font-size="24" text-anchor="end">0.6</text>
<text transform="translate(979 511.9) scale(0.9600 1.0800)" font-size="24" text-anchor="end">0.8</text>
<text transform="translate(979 461.2) scale(0.9600 1.0800)" font-size="24" text-anchor="end">1.0</text>
<text transform="translate(1167 432.6)" font-size="24.65" text-anchor="middle">ShanghaiTech “05_0018”</text>
<text transform="translate(1192.1 777.4) scale(1.0000 1.0500)" font-size="30.7" text-anchor="middle">Frames</text>
<text transform="translate(934.5 574.5) rotate(-90)" font-size="31.4" text-anchor="middle">Score</text>
</g>
<g>
<rect x="1517.4" y="442.4" width="196.6" height="276.8" fill="#ff8080"/>
<rect x="1539" y="442.4" width="0.9" height="276.8" fill="#ff9d9d"/>
<polyline fill="none" stroke="#0000ff" stroke-width="2.2" stroke-linejoin="round" stroke-linecap="butt" points="1439.61,706.56 1448.02,705.76 1456.03,704.96 1472.05,704.76 1476.05,703.76 1486.06,703.76 1492.07,705.16 1497.07,705.76 1510.09,705.76 1516.09,704.16 1519.1,699.15 1522.1,696.75 1526.1,695.15 1536.11,694.15 1541.12,691.14 1552.13,691.14 1556.14,690.14 1568.15,690.54 1578.16,690.54 1586.17,689.14 1591.17,685.14 1591.77,676.13 1593.18,668.12 1595.18,667.72 1598.18,657.51 1600.58,656.7 1603.19,649.1 1604.79,645.49 1611.2,645.49 1613.8,650.1 1617.2,654.7 1628.21,654.5 1631.22,655.7 1642.23,655.7 1646.23,653.1 1652.24,652.1 1656.24,649.7 1660.25,649.1 1661.65,636.08 1665.25,628.07 1668.26,616.06 1672.86,613.06 1675.27,598.04 1677.27,595.64 1678.87,588.03 1680.27,550.13 1681.87,517.09 1683.67,516.49 1684.68,500.08 1686.68,466.04 1688.28,464.04 1690.28,454.03 1701.89,454.03 1703.7,460.03 1705.3,480.05 1707.3,510.09 1708.9,547.13 1711.3,552.13 1713.31,555.14 1713.91,570.15 1714.31,610.05 1715.31,650.1 1716.71,659.11 1720.31,669.72 1722.32,670.72 1723.92,674.12 1732.33,674.12 1733.93,670.72 1735.33,674.12 1740.34,674.12 1742.34,669.12 1752.35,669.12 1754.35,672.72 1757.35,673.72 1760.36,677.13 1762.36,677.13 1763.96,675.73 1765.96,679.13 1772.37,679.13 1774.37,678.13 1778.38,678.13 1779.38,679.13 1780.38,678.13 1789.39,678.13 1791.39,684.13 1792.79,686.14 1794.79,686.14"/>
<line x1="1601.59" y1="542.12" x2="1684.84" y2="464.33" stroke="#000" stroke-width="0.9"/>
<polygon points="1696.29,454.03 1677.27,459.03 1684.84,464.33 1689.28,472.45" fill="#000"/>
<g transform="translate(1492 542) scale(1.0000 1.0261)" clip-path="url(#clipP)"><g filter="url(#blur)">
<rect width="164" height="92" fill="url(#gE)"/>
<polygon points="0.0,0.0 163.9,0.0 163.9,11.8 88.9,11.8 79.2,7.0 0.0,4.6" fill="#8a8b91" />
<polygon points="115.4,0.0 163.9,0.0 163.9,20.9 144.4,14.8 127.5,10.0 115.4,10.6" fill="#90939a" />
<rect x="144.4" y="0.0" width="19.5" height="8.4" fill="#222528" />
<rect x="131.1" y="0.0" width="13.3" height="7.0" fill="#5a5e64" />
<rect x="139.5" y="7.0" width="24.4" height="2.2" fill="#9a9ca2" />
<polygon points="25.0,35.9 55.1,25.1 91.3,11.2 109.4,11.8 109.4,19.1 88.9,32.3 163.9,46.8 163.9,70.3 115.4,58.9 67.2,43.2" fill="#b3a68e" opacity="0.32"/>
<polygon points="52.7,26.9 93.7,25.1 91.3,31.1 67.2,35.9 45.5,33.5" fill="#7c7c86" opacity="0.5"/>
<polygon points="103.4,45.6 163.9,57.6 163.9,62.5 115.4,51.6" fill="#8a8a94" opacity="0.45"/>
<polygon points="0.0,2.2 67.2,5.2 85.3,9.2 88.3,11.8 79.2,14.0 18.9,12.8 0.0,12.1" fill="#3a4a2b" />
<polygon points="0.0,9.2 79.2,10.6 87.7,12.1 79.2,14.0 18.9,13.0 0.0,12.4" fill="#3c4044" />
<polygon points="18.9,4.0 67.2,5.8 76.8,7.6 25.0,7.0" fill="#486030" />
<rect x="0.0" y="0.0" width="144.4" height="1.9" fill="#272523" />
<rect x="22.6" y="0.0" width="1.7" height="4.8" fill="#2e2c28" />
<rect x="29.8" y="0.0" width="1.7" height="4.8" fill="#2e2c28" />
<rect x="37.0" y="0.0" width="1.7" height="4.8" fill="#2e2c28" />
<rect x="46.7" y="0.0" width="1.7" height="4.8" fill="#2e2c28" />
<rect x="63.6" y="0.0" width="1.7" height="4.8" fill="#2e2c28" />
<rect x="68.4" y="0.0" width="1.7" height="4.8" fill="#2e2c28" />
<rect x="79.2" y="0.0" width="1.7" height="4.8" fill="#2e2c28" />
<rect x="100.9" y="0.0" width="1.7" height="4.8" fill="#2e2c28" />
<polygon points="0.0,18.5 12.9,20.9 26.2,22.4 41.2,26.5 31.0,29.7 0.0,30.2" fill="#43582c" />
<polygon points="0.0,28.5 17.7,28.9 31.0,28.2 42.5,26.1 47.3,26.5 43.1,28.1 31.0,31.1 17.7,32.1 0.0,32.8" fill="#3e4247" />
<polygon points="0.0,19.1 25.0,22.2 23.8,23.9 0.0,21.7" fill="#35383c" opacity="0.7"/>
<ellipse cx="11.7" cy="3.6" rx="10.3" ry="5.1" fill="#2f3f24" />
<rect x="11.9" y="7.0" width="2.2" height="19.5" fill="#26241f" />
<polygon points="88.3,31.7 110.0,19.7 138.3,20.5 163.9,24.8 163.9,47.0 149.2,43.4 129.9,39.3" fill="#4c5034" />
<polygon points="110.0,19.7 138.3,20.5 134.7,31.1 103.4,34.7 88.3,31.7" fill="#46472f" />
<polygon points="129.9,39.3 143.4,23.3 156.7,25.1 148.2,42.9" fill="#6b665a" />
<polygon points="148.2,42.9 156.7,25.1 163.9,25.7 163.9,47.0" fill="#587030" />
<polygon points="107.0,0.0 131.1,0.0 131.1,6.4 115.4,5.2 107.0,4.6" fill="#24281f" />
<rect x="110.6" y="0.0" width="3.6" height="29.5" fill="#211f1d" />
<rect x="117.8" y="2.2" width="2.2" height="22.3" fill="#272522" />
<rect x="125.3" y="0.0" width="2.7" height="20.5" fill="#252321" />
<polyline points="116.6,5.8 115.4,22.7" fill="none" stroke="#77776e" stroke-width="0.72" />
<polyline points="122.7,5.8 123.3,21.5" fill="none" stroke="#77776e" stroke-width="0.60" />
<rect x="92.3" y="2.4" width="1.8" height="28.7" fill="#3a3a3a" />
<rect x="90.8" y="1.7" width="4.8" height="1.2" fill="#b5b5ad" />
<polygon points="134.1,23.5 141.4,20.6 142.9,24.1 135.3,27.5" fill="#2f3238" />
<polygon points="149.6,31.1 156.1,29.1 157.3,36.8 150.2,39.3" fill="#2f3238" />
<rect width="164" height="92" fill="url(#gDk)"/>
<ellipse cx="61.9" cy="15.7" rx="1.1" ry="1.1" fill="#3a3430" />
<polygon points="60.3,16.9 63.8,16.9 63.8,22.4 60.3,22.4" fill="#dcdbd8" />
<rect x="62.4" y="18.5" width="1.7" height="3.3" fill="#2a2c30" />
<polyline points="58.7,24.5 62.4,22.1 64.5,25.1" fill="none" stroke="#5a5a5c" stroke-width="0.72" />
<polygon points="105.5,11.6 108.4,11.6 108.2,19.3 105.8,19.3" fill="#43356a" />
<ellipse cx="145.8" cy="43.2" rx="1.6" ry="1.6" fill="#1e1c1c" />
<polygon points="144.1,45.3 148.2,45.6 147.0,55.2 143.4,55.0" fill="#cf86a2" />
<polyline points="144.1,51.0 140.1,52.8" fill="none" stroke="#3a3a3e" stroke-width="1.09" />
<polyline points="143.8,55.0 140.7,62.5" fill="none" stroke="#7e7e84" stroke-width="1.45" />
<polyline points="145.6,55.0 148.9,64.3" fill="none" stroke="#7e7e84" stroke-width="1.45" />
<polygon points="143.2,65.9 147.7,66.1 147.4,68.3 143.4,68.0" fill="#3e4044" />
<polygon points="138.1,61.9 141.4,61.9 141.4,63.7 138.1,63.7" fill="#3e4044" />
<polygon points="0.0,41.4 2.7,43.2 3.9,51.6 3.3,58.3 0.0,58.6" fill="#55513a" />
<ellipse cx="16.8" cy="60.4" rx="5.1" ry="2.4" fill="#838989" />
</g></g>
<rect x="1439.4" y="442.4" width="363.6" height="276.8" fill="none" stroke="#3a3a3a" stroke-width="1"/>
<path d="M1439.4 719.2v3.8M1481.34 719.2v3.8M1523.28 719.2v3.8M1565.21 719.2v3.8M1607.15 719.2v3.8M1649.09 719.2v3.8M1691.03 719.2v3.8M1732.96 719.2v3.8M1774.9 719.2v3.8M1439.4 444.9h-3.8M1439.4 489.1h-3.8M1439.4 533.6h-3.8M1439.4 578.1h-3.8M1439.4 622.5h-3.8M1439.4 666.1h-3.8M1439.4 710.8h-3.8" stroke="#3a3a3a" stroke-width="1" fill="none"/>
<text transform="translate(1438.5 745.4)" font-size="24" text-anchor="middle">0</text>
<text transform="translate(1477.4 745.4)" font-size="24" text-anchor="middle">25</text>
<text transform="translate(1518 745.4)" font-size="24" text-anchor="middle">50</text>
<text transform="translate(1558 745.4)" font-size="24" text-anchor="middle">75</text>
<text transform="translate(1599.8 745.4)" font-size="24" text-anchor="middle">100</text>
<text transform="translate(1643.2 745.4)" font-size="24" text-anchor="middle">125</text>
<text transform="translate(1687.5 745.4)" font-size="24" text-anchor="middle">150</text>
<text transform="translate(1732.3 745.4)" font-size="24" text-anchor="middle">175</text>
<text transform="translate(1778.8 745.4)" font-size="24" text-anchor="middle">200</text>
<text transform="translate(1427.9 717.4) scale(0.9600 1.0800)" font-size="24" text-anchor="end">0.0</text>
<text transform="translate(1427.9 667.5) scale(0.9600 1.0800)" font-size="24" text-anchor="end">0.2</text>
<text transform="translate(1427.9 616.8) scale(0.9600 1.0800)" font-size="24" text-anchor="end">0.4</text>
<text transform="translate(1427.9 566.9) scale(0.9600 1.0800)" font-size="24" text-anchor="end">0.6</text>
<text transform="translate(1427.9 516.2) scale(0.9600 1.0800)" font-size="24" text-anchor="end">0.8</text>
<text transform="translate(1427.9 466.6) scale(0.9600 1.0800)" font-size="24" text-anchor="end">1.0</text>
<text transform="translate(1615.2 434.1)" font-size="24.65" text-anchor="middle">ShanghaiTech “12_0173”</text>
<text transform="translate(1619.4 776.3) scale(1.0000 1.0500)" font-size="30.7" text-anchor="middle">Frames</text>
<text transform="translate(1383.1 580) rotate(-90)" font-size="31.4" text-anchor="middle">Score</text>
</g>
<g font-size="29.5" text-anchor="middle">
<text x="281.8" y="822.2">(a) “01<tspan dy="14">_</tspan><tspan dy="-14">0177”</tspan></text>
<text x="729.9" y="822.2">(b) “03<tspan dy="14">_</tspan><tspan dy="-14">0035”</tspan></text>
<text x="1178" y="822.2">(c) “05<tspan dy="14">_</tspan><tspan dy="-14">0018”</tspan></text>
<text x="1626.1" y="822.2">(d) “12<tspan dy="14">_</tspan><tspan dy="-14">0173”</tspan></text>
</g>
</svg></body></html>
